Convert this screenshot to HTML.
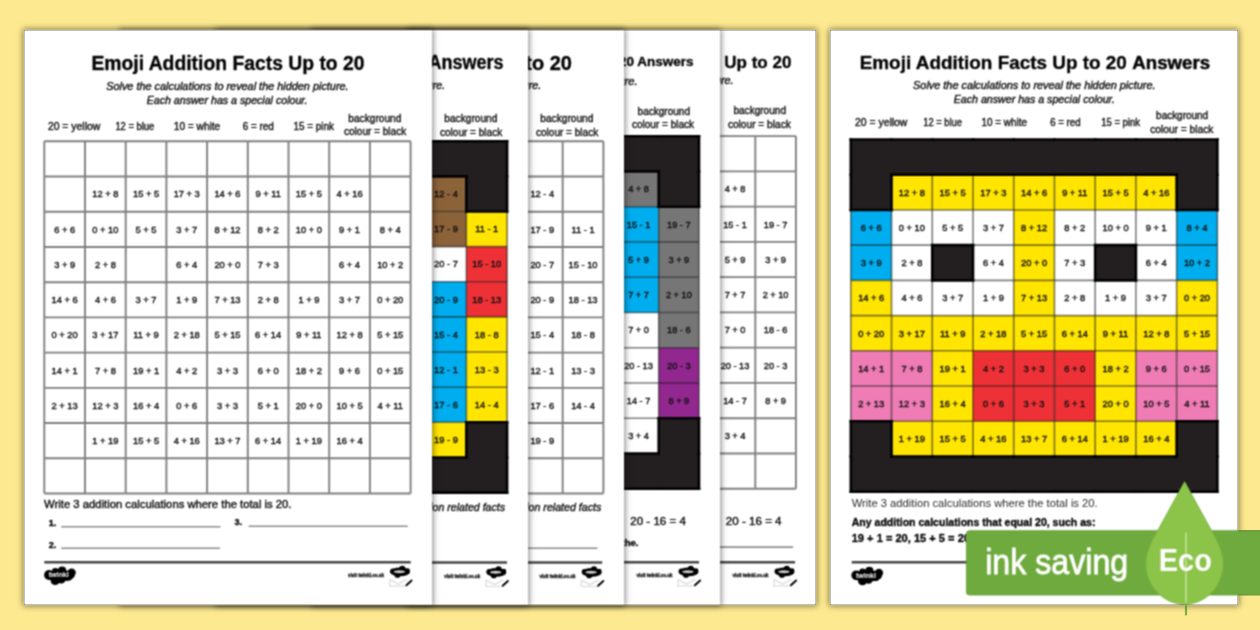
<!DOCTYPE html><html><head><meta charset="utf-8"><title>Emoji Addition Facts Up to 20</title><style>
html,body{margin:0;padding:0;}
body{width:1260px;height:630px;background:#FDE98F;position:relative;overflow:hidden;font-family:"Liberation Sans",sans-serif;}
.pg{position:absolute;background:#fff;box-shadow:0 0 6px 1px rgba(0,0,0,0.5);overflow:hidden;}
.pg svg{display:block;font-family:"Liberation Sans",sans-serif;}
.eco{position:absolute;left:0;top:0;z-index:20;}
#wrap{position:absolute;left:0;top:0;width:1260px;height:630px;filter:url(#soft);}
</style></head><body><svg width="0" height="0" style="position:absolute"><filter id="soft" x="0" y="0" width="100%" height="100%" color-interpolation-filters="sRGB"><feConvolveMatrix order="3" kernelMatrix="1 2 1 2 4 2 1 2 1" divisor="16" edgeMode="duplicate" preserveAlpha="true"/></filter></svg><div id="wrap">
<div class="pg" style="left:407.6px;top:30px;width:408px;height:575px;z-index:1;"><svg width="408" height="575" viewBox="407.6 30 408 575"><text x="791.00" y="67.80" font-size="17" text-anchor="end" font-weight="bold" stroke="#231F20" stroke-width="0.4">Emoji Addition and Subtraction Facts Up to 20</text>
<text x="720.60" y="84.30" font-size="10.0" text-anchor="end" font-style="italic" stroke="#231F20" stroke-width="0.4">Solve the calculations to reveal the hidden pictu</text>
<text x="720.60" y="84.30" font-size="10.0" font-style="italic" textLength="12.60" lengthAdjust="spacingAndGlyphs" stroke="#231F20" stroke-width="0.4">re.</text>
<text x="733.00" y="113.60" font-size="10.0" textLength="52.60" lengthAdjust="spacingAndGlyphs" stroke="#231F20" stroke-width="0.4">background</text>
<text x="727.50" y="127.70" font-size="10.0" textLength="62.90" lengthAdjust="spacingAndGlyphs" stroke="#231F20" stroke-width="0.4">colour = black</text>
<line x1="714.30" y1="136.10" x2="714.30" y2="171.36" stroke="#7E7E7E" stroke-width="1.9"/>
<line x1="754.90" y1="136.10" x2="754.90" y2="171.36" stroke="#7E7E7E" stroke-width="1.9"/>
<line x1="795.50" y1="136.10" x2="795.50" y2="171.36" stroke="#7E7E7E" stroke-width="1.9"/>
<line x1="714.30" y1="171.36" x2="714.30" y2="206.62" stroke="#7E7E7E" stroke-width="1.9"/>
<line x1="754.90" y1="171.36" x2="754.90" y2="206.62" stroke="#7E7E7E" stroke-width="1.9"/>
<line x1="795.50" y1="171.36" x2="795.50" y2="206.62" stroke="#7E7E7E" stroke-width="1.9"/>
<line x1="714.30" y1="206.62" x2="714.30" y2="241.88" stroke="#7E7E7E" stroke-width="1.9"/>
<line x1="754.90" y1="206.62" x2="754.90" y2="241.88" stroke="#7E7E7E" stroke-width="1.9"/>
<line x1="795.50" y1="206.62" x2="795.50" y2="241.88" stroke="#7E7E7E" stroke-width="1.9"/>
<line x1="714.30" y1="241.88" x2="714.30" y2="277.14" stroke="#7E7E7E" stroke-width="1.9"/>
<line x1="754.90" y1="241.88" x2="754.90" y2="277.14" stroke="#7E7E7E" stroke-width="1.9"/>
<line x1="795.50" y1="241.88" x2="795.50" y2="277.14" stroke="#7E7E7E" stroke-width="1.9"/>
<line x1="714.30" y1="277.14" x2="714.30" y2="312.40" stroke="#7E7E7E" stroke-width="1.9"/>
<line x1="754.90" y1="277.14" x2="754.90" y2="312.40" stroke="#7E7E7E" stroke-width="1.9"/>
<line x1="795.50" y1="277.14" x2="795.50" y2="312.40" stroke="#7E7E7E" stroke-width="1.9"/>
<line x1="714.30" y1="312.40" x2="714.30" y2="347.66" stroke="#7E7E7E" stroke-width="1.9"/>
<line x1="754.90" y1="312.40" x2="754.90" y2="347.66" stroke="#7E7E7E" stroke-width="1.9"/>
<line x1="795.50" y1="312.40" x2="795.50" y2="347.66" stroke="#7E7E7E" stroke-width="1.9"/>
<line x1="714.30" y1="347.66" x2="714.30" y2="382.92" stroke="#7E7E7E" stroke-width="1.9"/>
<line x1="754.90" y1="347.66" x2="754.90" y2="382.92" stroke="#7E7E7E" stroke-width="1.9"/>
<line x1="795.50" y1="347.66" x2="795.50" y2="382.92" stroke="#7E7E7E" stroke-width="1.9"/>
<line x1="714.30" y1="382.92" x2="714.30" y2="418.18" stroke="#7E7E7E" stroke-width="1.9"/>
<line x1="754.90" y1="382.92" x2="754.90" y2="418.18" stroke="#7E7E7E" stroke-width="1.9"/>
<line x1="795.50" y1="382.92" x2="795.50" y2="418.18" stroke="#7E7E7E" stroke-width="1.9"/>
<line x1="714.30" y1="418.18" x2="714.30" y2="453.44" stroke="#7E7E7E" stroke-width="1.9"/>
<line x1="754.90" y1="418.18" x2="754.90" y2="453.44" stroke="#7E7E7E" stroke-width="1.9"/>
<line x1="795.50" y1="418.18" x2="795.50" y2="453.44" stroke="#7E7E7E" stroke-width="1.9"/>
<line x1="714.30" y1="453.44" x2="714.30" y2="488.70" stroke="#7E7E7E" stroke-width="1.9"/>
<line x1="754.90" y1="453.44" x2="754.90" y2="488.70" stroke="#7E7E7E" stroke-width="1.9"/>
<line x1="795.50" y1="453.44" x2="795.50" y2="488.70" stroke="#7E7E7E" stroke-width="1.9"/>
<line x1="714.30" y1="136.10" x2="754.90" y2="136.10" stroke="#7E7E7E" stroke-width="1.9"/>
<line x1="754.90" y1="136.10" x2="795.50" y2="136.10" stroke="#7E7E7E" stroke-width="1.9"/>
<line x1="714.30" y1="171.36" x2="754.90" y2="171.36" stroke="#7E7E7E" stroke-width="1.9"/>
<line x1="754.90" y1="171.36" x2="795.50" y2="171.36" stroke="#7E7E7E" stroke-width="1.9"/>
<line x1="714.30" y1="206.62" x2="754.90" y2="206.62" stroke="#7E7E7E" stroke-width="1.9"/>
<line x1="754.90" y1="206.62" x2="795.50" y2="206.62" stroke="#7E7E7E" stroke-width="1.9"/>
<line x1="714.30" y1="241.88" x2="754.90" y2="241.88" stroke="#7E7E7E" stroke-width="1.9"/>
<line x1="754.90" y1="241.88" x2="795.50" y2="241.88" stroke="#7E7E7E" stroke-width="1.9"/>
<line x1="714.30" y1="277.14" x2="754.90" y2="277.14" stroke="#7E7E7E" stroke-width="1.9"/>
<line x1="754.90" y1="277.14" x2="795.50" y2="277.14" stroke="#7E7E7E" stroke-width="1.9"/>
<line x1="714.30" y1="312.40" x2="754.90" y2="312.40" stroke="#7E7E7E" stroke-width="1.9"/>
<line x1="754.90" y1="312.40" x2="795.50" y2="312.40" stroke="#7E7E7E" stroke-width="1.9"/>
<line x1="714.30" y1="347.66" x2="754.90" y2="347.66" stroke="#7E7E7E" stroke-width="1.9"/>
<line x1="754.90" y1="347.66" x2="795.50" y2="347.66" stroke="#7E7E7E" stroke-width="1.9"/>
<line x1="714.30" y1="382.92" x2="754.90" y2="382.92" stroke="#7E7E7E" stroke-width="1.9"/>
<line x1="754.90" y1="382.92" x2="795.50" y2="382.92" stroke="#7E7E7E" stroke-width="1.9"/>
<line x1="714.30" y1="418.18" x2="754.90" y2="418.18" stroke="#7E7E7E" stroke-width="1.9"/>
<line x1="754.90" y1="418.18" x2="795.50" y2="418.18" stroke="#7E7E7E" stroke-width="1.9"/>
<line x1="714.30" y1="453.44" x2="754.90" y2="453.44" stroke="#7E7E7E" stroke-width="1.9"/>
<line x1="754.90" y1="453.44" x2="795.50" y2="453.44" stroke="#7E7E7E" stroke-width="1.9"/>
<line x1="714.30" y1="488.70" x2="754.90" y2="488.70" stroke="#7E7E7E" stroke-width="1.9"/>
<line x1="754.90" y1="488.70" x2="795.50" y2="488.70" stroke="#7E7E7E" stroke-width="1.9"/>
<text x="734.60" y="192.29" font-size="9.2" text-anchor="middle" fill="#111" stroke="#111" stroke-width="0.4">4 + 8</text>
<text x="734.60" y="227.55" font-size="9.2" text-anchor="middle" fill="#111" stroke="#111" stroke-width="0.4">15 - 1</text>
<text x="775.20" y="227.55" font-size="9.2" text-anchor="middle" fill="#111" stroke="#111" stroke-width="0.4">19 - 7</text>
<text x="734.60" y="262.81" font-size="9.2" text-anchor="middle" fill="#111" stroke="#111" stroke-width="0.4">5 + 9</text>
<text x="775.20" y="262.81" font-size="9.2" text-anchor="middle" fill="#111" stroke="#111" stroke-width="0.4">3 + 9</text>
<text x="734.60" y="298.07" font-size="9.2" text-anchor="middle" fill="#111" stroke="#111" stroke-width="0.4">7 + 7</text>
<text x="775.20" y="298.07" font-size="9.2" text-anchor="middle" fill="#111" stroke="#111" stroke-width="0.4">2 + 10</text>
<text x="734.60" y="333.33" font-size="9.2" text-anchor="middle" fill="#111" stroke="#111" stroke-width="0.4">7 + 0</text>
<text x="775.20" y="333.33" font-size="9.2" text-anchor="middle" fill="#111" stroke="#111" stroke-width="0.4">18 - 6</text>
<text x="734.60" y="368.59" font-size="9.2" text-anchor="middle" fill="#111" stroke="#111" stroke-width="0.4">20 - 13</text>
<text x="775.20" y="368.59" font-size="9.2" text-anchor="middle" fill="#111" stroke="#111" stroke-width="0.4">20 - 3</text>
<text x="734.60" y="403.85" font-size="9.2" text-anchor="middle" fill="#111" stroke="#111" stroke-width="0.4">14 - 7</text>
<text x="775.20" y="403.85" font-size="9.2" text-anchor="middle" fill="#111" stroke="#111" stroke-width="0.4">8 + 9</text>
<text x="734.60" y="439.11" font-size="9.2" text-anchor="middle" fill="#111" stroke="#111" stroke-width="0.4">3 + 4</text>
<text x="725.40" y="525.00" font-size="10.4" textLength="55.80" lengthAdjust="spacingAndGlyphs" stroke="#231F20" stroke-width="0.4">20 - 16 = 4</text>
<line x1="700.00" y1="547.10" x2="792.70" y2="547.10" stroke="#8C8C8C" stroke-width="1.6"/>
<line x1="700.00" y1="562.20" x2="794.70" y2="562.20" stroke="#454545" stroke-width="2.4"/>
<g transform="translate(794.80,562.00)"><text x="-62.8" y="15.2" font-size="4.6" font-weight="bold" fill="#222" stroke="#222" stroke-width="0.35" textLength="36" lengthAdjust="spacingAndGlyphs">visit twinkl.co.uk</text><ellipse cx="-10.6" cy="9.9" rx="9.9" ry="4.4" fill="#000"/><circle cx="-8.4" cy="6.8" r="3.1" fill="#000"/><circle cx="-13.2" cy="12.7" r="3.1" fill="#000"/><circle cx="-18" cy="9.2" r="2.6" fill="#000"/><circle cx="-3.2" cy="8.6" r="2.4" fill="#000"/><ellipse cx="-11.3" cy="9.8" rx="5.8" ry="1.5" fill="#fff" opacity="0.8"/><path d="M-21 17.5 L-12.5 22 L-4 17.5 M-21 17.5 L-21 24 L-4 24" fill="none" stroke="#e2e2e2" stroke-width="1.6"/><path d="M-4.3 23.2 L0.9 18.5" fill="none" stroke="#000" stroke-width="1.9" stroke-linecap="round"/></g></svg></div>
<div class="pg" style="left:312px;top:30px;width:408px;height:575px;z-index:2;"><svg width="408" height="575" viewBox="312 30 408 575"><text x="693.60" y="65.70" font-size="13.5" text-anchor="end" font-weight="bold" stroke="#231F20" stroke-width="0.4">Emoji Addition and Subtraction Facts Up to 20 Answers</text>
<text x="624.60" y="84.80" font-size="10.0" text-anchor="end" font-style="italic" stroke="#231F20" stroke-width="0.4">Solve the calculations to reveal the hidden pictu</text>
<text x="624.60" y="84.80" font-size="10.0" font-style="italic" textLength="13.00" lengthAdjust="spacingAndGlyphs" stroke="#231F20" stroke-width="0.4">re.</text>
<text x="637.60" y="114.50" font-size="10.0" textLength="52.40" lengthAdjust="spacingAndGlyphs" stroke="#231F20" stroke-width="0.4">background</text>
<text x="632.00" y="127.60" font-size="10.0" textLength="62.00" lengthAdjust="spacingAndGlyphs" stroke="#231F20" stroke-width="0.4">colour = black</text>
<rect x="617.80" y="135.70" width="41.50" height="36.44" fill="#231F20"/>
<rect x="658.10" y="135.70" width="41.50" height="36.44" fill="#231F20"/>
<rect x="618.40" y="171.54" width="40.35" height="35.29" fill="#767676"/>
<rect x="658.10" y="170.94" width="41.50" height="36.44" fill="#231F20"/>
<rect x="618.40" y="206.78" width="40.35" height="35.29" fill="#00AEEF"/>
<rect x="658.70" y="206.78" width="40.35" height="35.29" fill="#767676"/>
<rect x="618.40" y="242.02" width="40.35" height="35.29" fill="#00AEEF"/>
<rect x="658.70" y="242.02" width="40.35" height="35.29" fill="#767676"/>
<rect x="618.40" y="277.26" width="40.35" height="35.29" fill="#00AEEF"/>
<rect x="658.70" y="277.26" width="40.35" height="35.29" fill="#767676"/>
<rect x="658.70" y="312.50" width="40.35" height="35.29" fill="#767676"/>
<rect x="658.70" y="347.74" width="40.35" height="35.29" fill="#92278F"/>
<rect x="658.70" y="382.98" width="40.35" height="35.29" fill="#92278F"/>
<rect x="658.10" y="417.62" width="41.50" height="36.44" fill="#231F20"/>
<rect x="617.80" y="452.86" width="41.50" height="36.44" fill="#231F20"/>
<rect x="658.10" y="452.86" width="41.50" height="36.44" fill="#231F20"/>
<line x1="618.40" y1="171.54" x2="618.40" y2="206.78" stroke="rgba(20,20,20,0.55)" stroke-width="1.6"/>
<line x1="618.40" y1="206.78" x2="618.40" y2="242.02" stroke="rgba(20,20,20,0.55)" stroke-width="1.6"/>
<line x1="658.70" y1="206.78" x2="658.70" y2="242.02" stroke="rgba(20,20,20,0.55)" stroke-width="1.6"/>
<line x1="699.00" y1="206.78" x2="699.00" y2="242.02" stroke="rgba(20,20,20,0.55)" stroke-width="1.6"/>
<line x1="618.40" y1="242.02" x2="618.40" y2="277.26" stroke="rgba(20,20,20,0.55)" stroke-width="1.6"/>
<line x1="658.70" y1="242.02" x2="658.70" y2="277.26" stroke="rgba(20,20,20,0.55)" stroke-width="1.6"/>
<line x1="699.00" y1="242.02" x2="699.00" y2="277.26" stroke="rgba(20,20,20,0.55)" stroke-width="1.6"/>
<line x1="618.40" y1="277.26" x2="618.40" y2="312.50" stroke="rgba(20,20,20,0.55)" stroke-width="1.6"/>
<line x1="658.70" y1="277.26" x2="658.70" y2="312.50" stroke="rgba(20,20,20,0.55)" stroke-width="1.6"/>
<line x1="699.00" y1="277.26" x2="699.00" y2="312.50" stroke="rgba(20,20,20,0.55)" stroke-width="1.6"/>
<line x1="618.40" y1="312.50" x2="618.40" y2="347.74" stroke="rgba(20,20,20,0.55)" stroke-width="1.6"/>
<line x1="658.70" y1="312.50" x2="658.70" y2="347.74" stroke="rgba(20,20,20,0.55)" stroke-width="1.6"/>
<line x1="699.00" y1="312.50" x2="699.00" y2="347.74" stroke="rgba(20,20,20,0.55)" stroke-width="1.6"/>
<line x1="618.40" y1="347.74" x2="618.40" y2="382.98" stroke="rgba(20,20,20,0.55)" stroke-width="1.6"/>
<line x1="658.70" y1="347.74" x2="658.70" y2="382.98" stroke="rgba(20,20,20,0.55)" stroke-width="1.6"/>
<line x1="699.00" y1="347.74" x2="699.00" y2="382.98" stroke="rgba(20,20,20,0.55)" stroke-width="1.6"/>
<line x1="618.40" y1="382.98" x2="618.40" y2="418.22" stroke="rgba(20,20,20,0.55)" stroke-width="1.6"/>
<line x1="658.70" y1="382.98" x2="658.70" y2="418.22" stroke="rgba(20,20,20,0.55)" stroke-width="1.6"/>
<line x1="699.00" y1="382.98" x2="699.00" y2="418.22" stroke="rgba(20,20,20,0.55)" stroke-width="1.6"/>
<line x1="618.40" y1="418.22" x2="618.40" y2="453.46" stroke="rgba(20,20,20,0.55)" stroke-width="1.6"/>
<line x1="618.40" y1="206.78" x2="658.70" y2="206.78" stroke="rgba(20,20,20,0.55)" stroke-width="1.6"/>
<line x1="618.40" y1="242.02" x2="658.70" y2="242.02" stroke="rgba(20,20,20,0.55)" stroke-width="1.6"/>
<line x1="658.70" y1="242.02" x2="699.00" y2="242.02" stroke="rgba(20,20,20,0.55)" stroke-width="1.6"/>
<line x1="618.40" y1="277.26" x2="658.70" y2="277.26" stroke="rgba(20,20,20,0.55)" stroke-width="1.6"/>
<line x1="658.70" y1="277.26" x2="699.00" y2="277.26" stroke="rgba(20,20,20,0.55)" stroke-width="1.6"/>
<line x1="618.40" y1="312.50" x2="658.70" y2="312.50" stroke="rgba(20,20,20,0.55)" stroke-width="1.6"/>
<line x1="658.70" y1="312.50" x2="699.00" y2="312.50" stroke="rgba(20,20,20,0.55)" stroke-width="1.6"/>
<line x1="618.40" y1="347.74" x2="658.70" y2="347.74" stroke="rgba(20,20,20,0.55)" stroke-width="1.6"/>
<line x1="658.70" y1="347.74" x2="699.00" y2="347.74" stroke="rgba(20,20,20,0.55)" stroke-width="1.6"/>
<line x1="618.40" y1="382.98" x2="658.70" y2="382.98" stroke="rgba(20,20,20,0.55)" stroke-width="1.6"/>
<line x1="658.70" y1="382.98" x2="699.00" y2="382.98" stroke="rgba(20,20,20,0.55)" stroke-width="1.6"/>
<line x1="618.40" y1="418.22" x2="658.70" y2="418.22" stroke="rgba(20,20,20,0.55)" stroke-width="1.6"/>
<line x1="618.40" y1="136.30" x2="618.40" y2="171.54" stroke="#000" stroke-width="2.6" stroke-linecap="square"/>
<line x1="699.00" y1="136.30" x2="699.00" y2="171.54" stroke="#000" stroke-width="2.6" stroke-linecap="square"/>
<line x1="658.70" y1="171.54" x2="658.70" y2="206.78" stroke="#000" stroke-width="2.6" stroke-linecap="square"/>
<line x1="699.00" y1="171.54" x2="699.00" y2="206.78" stroke="#000" stroke-width="2.6" stroke-linecap="square"/>
<line x1="658.70" y1="418.22" x2="658.70" y2="453.46" stroke="#000" stroke-width="2.6" stroke-linecap="square"/>
<line x1="699.00" y1="418.22" x2="699.00" y2="453.46" stroke="#000" stroke-width="2.6" stroke-linecap="square"/>
<line x1="618.40" y1="453.46" x2="618.40" y2="488.70" stroke="#000" stroke-width="2.6" stroke-linecap="square"/>
<line x1="699.00" y1="453.46" x2="699.00" y2="488.70" stroke="#000" stroke-width="2.6" stroke-linecap="square"/>
<line x1="618.40" y1="136.30" x2="658.70" y2="136.30" stroke="#000" stroke-width="2.6" stroke-linecap="square"/>
<line x1="658.70" y1="136.30" x2="699.00" y2="136.30" stroke="#000" stroke-width="2.6" stroke-linecap="square"/>
<line x1="618.40" y1="171.54" x2="658.70" y2="171.54" stroke="#000" stroke-width="2.6" stroke-linecap="square"/>
<line x1="658.70" y1="206.78" x2="699.00" y2="206.78" stroke="#000" stroke-width="2.6" stroke-linecap="square"/>
<line x1="658.70" y1="418.22" x2="699.00" y2="418.22" stroke="#000" stroke-width="2.6" stroke-linecap="square"/>
<line x1="618.40" y1="453.46" x2="658.70" y2="453.46" stroke="#000" stroke-width="2.6" stroke-linecap="square"/>
<line x1="618.40" y1="488.70" x2="658.70" y2="488.70" stroke="#000" stroke-width="2.6" stroke-linecap="square"/>
<line x1="658.70" y1="488.70" x2="699.00" y2="488.70" stroke="#000" stroke-width="2.6" stroke-linecap="square"/>
<text x="638.55" y="192.46" font-size="9.2" text-anchor="middle" fill="#111" stroke="#111" stroke-width="0.4">4 + 8</text>
<text x="638.55" y="227.70" font-size="9.2" text-anchor="middle" fill="#111" stroke="#111" stroke-width="0.4">15 - 1</text>
<text x="678.85" y="227.70" font-size="9.2" text-anchor="middle" fill="#111" stroke="#111" stroke-width="0.4">19 - 7</text>
<text x="638.55" y="262.94" font-size="9.2" text-anchor="middle" fill="#111" stroke="#111" stroke-width="0.4">5 + 9</text>
<text x="678.85" y="262.94" font-size="9.2" text-anchor="middle" fill="#111" stroke="#111" stroke-width="0.4">3 + 9</text>
<text x="638.55" y="298.18" font-size="9.2" text-anchor="middle" fill="#111" stroke="#111" stroke-width="0.4">7 + 7</text>
<text x="678.85" y="298.18" font-size="9.2" text-anchor="middle" fill="#111" stroke="#111" stroke-width="0.4">2 + 10</text>
<text x="638.55" y="333.42" font-size="9.2" text-anchor="middle" fill="#111" stroke="#111" stroke-width="0.4">7 + 0</text>
<text x="678.85" y="333.42" font-size="9.2" text-anchor="middle" fill="#111" stroke="#111" stroke-width="0.4">18 - 6</text>
<text x="638.55" y="368.66" font-size="9.2" text-anchor="middle" fill="#111" stroke="#111" stroke-width="0.4">20 - 13</text>
<text x="678.85" y="368.66" font-size="9.2" text-anchor="middle" fill="#111" stroke="#111" stroke-width="0.4">20 - 3</text>
<text x="638.55" y="403.90" font-size="9.2" text-anchor="middle" fill="#111" stroke="#111" stroke-width="0.4">14 - 7</text>
<text x="678.85" y="403.90" font-size="9.2" text-anchor="middle" fill="#111" stroke="#111" stroke-width="0.4">8 + 9</text>
<text x="638.55" y="439.14" font-size="9.2" text-anchor="middle" fill="#111" stroke="#111" stroke-width="0.4">3 + 4</text>
<text x="630.20" y="525.00" font-size="10.4" textLength="55.80" lengthAdjust="spacingAndGlyphs" stroke="#231F20" stroke-width="0.4">20 - 16 = 4</text>
<text x="638.50" y="546.30" font-size="9.6" text-anchor="end" font-weight="bold" stroke="#231F20" stroke-width="0.4">Write the related facts in the same way as the.</text>
<line x1="600.00" y1="562.20" x2="699.00" y2="562.20" stroke="#454545" stroke-width="2.4"/>
<g transform="translate(699.20,562.00)"><text x="-62.8" y="15.2" font-size="4.6" font-weight="bold" fill="#222" stroke="#222" stroke-width="0.35" textLength="36" lengthAdjust="spacingAndGlyphs">visit twinkl.co.uk</text><ellipse cx="-10.6" cy="9.9" rx="9.9" ry="4.4" fill="#000"/><circle cx="-8.4" cy="6.8" r="3.1" fill="#000"/><circle cx="-13.2" cy="12.7" r="3.1" fill="#000"/><circle cx="-18" cy="9.2" r="2.6" fill="#000"/><circle cx="-3.2" cy="8.6" r="2.4" fill="#000"/><ellipse cx="-11.3" cy="9.8" rx="5.8" ry="1.5" fill="#fff" opacity="0.8"/><path d="M-21 17.5 L-12.5 22 L-4 17.5 M-21 17.5 L-21 24 L-4 24" fill="none" stroke="#e2e2e2" stroke-width="1.6"/><path d="M-4.3 23.2 L0.9 18.5" fill="none" stroke="#000" stroke-width="1.9" stroke-linecap="round"/></g></svg></div>
<div class="pg" style="left:216px;top:30px;width:408px;height:575px;z-index:3;"><svg width="408" height="575" viewBox="216 30 408 575"><text x="520.50" y="69.50" font-size="19.5" text-anchor="end" font-weight="bold" stroke="#231F20" stroke-width="0.4">Emoji Subtraction Facts Up</text>
<text x="525.30" y="69.50" font-size="19.5" font-weight="bold" textLength="46.60" lengthAdjust="spacingAndGlyphs" stroke="#231F20" stroke-width="0.4">to 20</text>
<text x="528.80" y="89.00" font-size="10.2" text-anchor="end" font-style="italic" stroke="#231F20" stroke-width="0.4">Solve the calculations to reveal the hidden pictu</text>
<text x="528.80" y="89.00" font-size="10.2" font-style="italic" textLength="12.50" lengthAdjust="spacingAndGlyphs" stroke="#231F20" stroke-width="0.4">re.</text>
<text x="540.30" y="121.90" font-size="10.2" textLength="53.10" lengthAdjust="spacingAndGlyphs" stroke="#231F20" stroke-width="0.4">background</text>
<text x="536.00" y="135.70" font-size="10.2" textLength="62.20" lengthAdjust="spacingAndGlyphs" stroke="#231F20" stroke-width="0.4">colour = black</text>
<line x1="521.94" y1="141.30" x2="521.94" y2="176.52" stroke="#7E7E7E" stroke-width="1.9"/>
<line x1="562.66" y1="141.30" x2="562.66" y2="176.52" stroke="#7E7E7E" stroke-width="1.9"/>
<line x1="603.38" y1="141.30" x2="603.38" y2="176.52" stroke="#7E7E7E" stroke-width="1.9"/>
<line x1="521.94" y1="176.52" x2="521.94" y2="211.74" stroke="#7E7E7E" stroke-width="1.9"/>
<line x1="562.66" y1="176.52" x2="562.66" y2="211.74" stroke="#7E7E7E" stroke-width="1.9"/>
<line x1="603.38" y1="176.52" x2="603.38" y2="211.74" stroke="#7E7E7E" stroke-width="1.9"/>
<line x1="521.94" y1="211.74" x2="521.94" y2="246.96" stroke="#7E7E7E" stroke-width="1.9"/>
<line x1="562.66" y1="211.74" x2="562.66" y2="246.96" stroke="#7E7E7E" stroke-width="1.9"/>
<line x1="603.38" y1="211.74" x2="603.38" y2="246.96" stroke="#7E7E7E" stroke-width="1.9"/>
<line x1="521.94" y1="246.96" x2="521.94" y2="282.18" stroke="#7E7E7E" stroke-width="1.9"/>
<line x1="562.66" y1="246.96" x2="562.66" y2="282.18" stroke="#7E7E7E" stroke-width="1.9"/>
<line x1="603.38" y1="246.96" x2="603.38" y2="282.18" stroke="#7E7E7E" stroke-width="1.9"/>
<line x1="521.94" y1="282.18" x2="521.94" y2="317.40" stroke="#7E7E7E" stroke-width="1.9"/>
<line x1="562.66" y1="282.18" x2="562.66" y2="317.40" stroke="#7E7E7E" stroke-width="1.9"/>
<line x1="603.38" y1="282.18" x2="603.38" y2="317.40" stroke="#7E7E7E" stroke-width="1.9"/>
<line x1="521.94" y1="317.40" x2="521.94" y2="352.62" stroke="#7E7E7E" stroke-width="1.9"/>
<line x1="562.66" y1="317.40" x2="562.66" y2="352.62" stroke="#7E7E7E" stroke-width="1.9"/>
<line x1="603.38" y1="317.40" x2="603.38" y2="352.62" stroke="#7E7E7E" stroke-width="1.9"/>
<line x1="521.94" y1="352.62" x2="521.94" y2="387.84" stroke="#7E7E7E" stroke-width="1.9"/>
<line x1="562.66" y1="352.62" x2="562.66" y2="387.84" stroke="#7E7E7E" stroke-width="1.9"/>
<line x1="603.38" y1="352.62" x2="603.38" y2="387.84" stroke="#7E7E7E" stroke-width="1.9"/>
<line x1="521.94" y1="387.84" x2="521.94" y2="423.06" stroke="#7E7E7E" stroke-width="1.9"/>
<line x1="562.66" y1="387.84" x2="562.66" y2="423.06" stroke="#7E7E7E" stroke-width="1.9"/>
<line x1="603.38" y1="387.84" x2="603.38" y2="423.06" stroke="#7E7E7E" stroke-width="1.9"/>
<line x1="521.94" y1="423.06" x2="521.94" y2="458.28" stroke="#7E7E7E" stroke-width="1.9"/>
<line x1="562.66" y1="423.06" x2="562.66" y2="458.28" stroke="#7E7E7E" stroke-width="1.9"/>
<line x1="603.38" y1="423.06" x2="603.38" y2="458.28" stroke="#7E7E7E" stroke-width="1.9"/>
<line x1="521.94" y1="458.28" x2="521.94" y2="493.50" stroke="#7E7E7E" stroke-width="1.9"/>
<line x1="562.66" y1="458.28" x2="562.66" y2="493.50" stroke="#7E7E7E" stroke-width="1.9"/>
<line x1="603.38" y1="458.28" x2="603.38" y2="493.50" stroke="#7E7E7E" stroke-width="1.9"/>
<line x1="521.94" y1="141.30" x2="562.66" y2="141.30" stroke="#7E7E7E" stroke-width="1.9"/>
<line x1="562.66" y1="141.30" x2="603.38" y2="141.30" stroke="#7E7E7E" stroke-width="1.9"/>
<line x1="521.94" y1="176.52" x2="562.66" y2="176.52" stroke="#7E7E7E" stroke-width="1.9"/>
<line x1="562.66" y1="176.52" x2="603.38" y2="176.52" stroke="#7E7E7E" stroke-width="1.9"/>
<line x1="521.94" y1="211.74" x2="562.66" y2="211.74" stroke="#7E7E7E" stroke-width="1.9"/>
<line x1="562.66" y1="211.74" x2="603.38" y2="211.74" stroke="#7E7E7E" stroke-width="1.9"/>
<line x1="521.94" y1="246.96" x2="562.66" y2="246.96" stroke="#7E7E7E" stroke-width="1.9"/>
<line x1="562.66" y1="246.96" x2="603.38" y2="246.96" stroke="#7E7E7E" stroke-width="1.9"/>
<line x1="521.94" y1="282.18" x2="562.66" y2="282.18" stroke="#7E7E7E" stroke-width="1.9"/>
<line x1="562.66" y1="282.18" x2="603.38" y2="282.18" stroke="#7E7E7E" stroke-width="1.9"/>
<line x1="521.94" y1="317.40" x2="562.66" y2="317.40" stroke="#7E7E7E" stroke-width="1.9"/>
<line x1="562.66" y1="317.40" x2="603.38" y2="317.40" stroke="#7E7E7E" stroke-width="1.9"/>
<line x1="521.94" y1="352.62" x2="562.66" y2="352.62" stroke="#7E7E7E" stroke-width="1.9"/>
<line x1="562.66" y1="352.62" x2="603.38" y2="352.62" stroke="#7E7E7E" stroke-width="1.9"/>
<line x1="521.94" y1="387.84" x2="562.66" y2="387.84" stroke="#7E7E7E" stroke-width="1.9"/>
<line x1="562.66" y1="387.84" x2="603.38" y2="387.84" stroke="#7E7E7E" stroke-width="1.9"/>
<line x1="521.94" y1="423.06" x2="562.66" y2="423.06" stroke="#7E7E7E" stroke-width="1.9"/>
<line x1="562.66" y1="423.06" x2="603.38" y2="423.06" stroke="#7E7E7E" stroke-width="1.9"/>
<line x1="521.94" y1="458.28" x2="562.66" y2="458.28" stroke="#7E7E7E" stroke-width="1.9"/>
<line x1="562.66" y1="458.28" x2="603.38" y2="458.28" stroke="#7E7E7E" stroke-width="1.9"/>
<line x1="521.94" y1="493.50" x2="562.66" y2="493.50" stroke="#7E7E7E" stroke-width="1.9"/>
<line x1="562.66" y1="493.50" x2="603.38" y2="493.50" stroke="#7E7E7E" stroke-width="1.9"/>
<text x="542.30" y="197.43" font-size="9.3" text-anchor="middle" fill="#111" stroke="#111" stroke-width="0.4">12 - 4</text>
<text x="542.30" y="232.65" font-size="9.3" text-anchor="middle" fill="#111" stroke="#111" stroke-width="0.4">17 - 9</text>
<text x="583.02" y="232.65" font-size="9.3" text-anchor="middle" fill="#111" stroke="#111" stroke-width="0.4">11 - 1</text>
<text x="542.30" y="267.87" font-size="9.3" text-anchor="middle" fill="#111" stroke="#111" stroke-width="0.4">20 - 7</text>
<text x="583.02" y="267.87" font-size="9.3" text-anchor="middle" fill="#111" stroke="#111" stroke-width="0.4">15 - 10</text>
<text x="542.30" y="303.09" font-size="9.3" text-anchor="middle" fill="#111" stroke="#111" stroke-width="0.4">20 - 9</text>
<text x="583.02" y="303.09" font-size="9.3" text-anchor="middle" fill="#111" stroke="#111" stroke-width="0.4">18 - 13</text>
<text x="542.30" y="338.31" font-size="9.3" text-anchor="middle" fill="#111" stroke="#111" stroke-width="0.4">15 - 4</text>
<text x="583.02" y="338.31" font-size="9.3" text-anchor="middle" fill="#111" stroke="#111" stroke-width="0.4">18 - 8</text>
<text x="542.30" y="373.53" font-size="9.3" text-anchor="middle" fill="#111" stroke="#111" stroke-width="0.4">12 - 1</text>
<text x="583.02" y="373.53" font-size="9.3" text-anchor="middle" fill="#111" stroke="#111" stroke-width="0.4">13 - 3</text>
<text x="542.30" y="408.75" font-size="9.3" text-anchor="middle" fill="#111" stroke="#111" stroke-width="0.4">17 - 6</text>
<text x="583.02" y="408.75" font-size="9.3" text-anchor="middle" fill="#111" stroke="#111" stroke-width="0.4">14 - 4</text>
<text x="542.30" y="443.97" font-size="9.3" text-anchor="middle" fill="#111" stroke="#111" stroke-width="0.4">19 - 9</text>
<text x="528.60" y="510.50" font-size="10.5" text-anchor="end" font-style="italic" stroke="#231F20" stroke-width="0.4">Write the addition and subtracti</text>
<text x="528.60" y="510.50" font-size="10.5" font-style="italic" textLength="72.70" lengthAdjust="spacingAndGlyphs" stroke="#231F20" stroke-width="0.4">on related facts</text>
<line x1="480.00" y1="548.20" x2="597.50" y2="548.20" stroke="#8C8C8C" stroke-width="1.6"/>
<line x1="480.00" y1="562.50" x2="602.20" y2="562.50" stroke="#454545" stroke-width="2.4"/>
<g transform="translate(602.40,562.50)"><text x="-62.8" y="15.2" font-size="4.6" font-weight="bold" fill="#222" stroke="#222" stroke-width="0.35" textLength="36" lengthAdjust="spacingAndGlyphs">visit twinkl.co.uk</text><ellipse cx="-10.6" cy="9.9" rx="9.9" ry="4.4" fill="#000"/><circle cx="-8.4" cy="6.8" r="3.1" fill="#000"/><circle cx="-13.2" cy="12.7" r="3.1" fill="#000"/><circle cx="-18" cy="9.2" r="2.6" fill="#000"/><circle cx="-3.2" cy="8.6" r="2.4" fill="#000"/><ellipse cx="-11.3" cy="9.8" rx="5.8" ry="1.5" fill="#fff" opacity="0.8"/><path d="M-21 17.5 L-12.5 22 L-4 17.5 M-21 17.5 L-21 24 L-4 24" fill="none" stroke="#e2e2e2" stroke-width="1.6"/><path d="M-4.3 23.2 L0.9 18.5" fill="none" stroke="#000" stroke-width="1.9" stroke-linecap="round"/></g></svg></div>
<div class="pg" style="left:120px;top:30px;width:408px;height:575px;z-index:4;"><svg width="408" height="575" viewBox="120 30 408 575"><text x="423.50" y="69.30" font-size="19.5" text-anchor="end" font-weight="bold" stroke="#231F20" stroke-width="0.4">Emoji Subtraction Facts Up to 20</text>
<text x="428.40" y="69.30" font-size="19.5" font-weight="bold" textLength="75.20" lengthAdjust="spacingAndGlyphs" stroke="#231F20" stroke-width="0.4">Answers</text>
<text x="432.80" y="89.00" font-size="10.2" text-anchor="end" font-style="italic" stroke="#231F20" stroke-width="0.4">Solve the calculations to reveal the hidden pictu</text>
<text x="432.80" y="89.00" font-size="10.2" font-style="italic" textLength="12.20" lengthAdjust="spacingAndGlyphs" stroke="#231F20" stroke-width="0.4">re.</text>
<text x="444.30" y="121.90" font-size="10.2" textLength="53.10" lengthAdjust="spacingAndGlyphs" stroke="#231F20" stroke-width="0.4">background</text>
<text x="440.00" y="135.70" font-size="10.2" textLength="62.20" lengthAdjust="spacingAndGlyphs" stroke="#231F20" stroke-width="0.4">colour = black</text>
<rect x="425.04" y="140.60" width="41.92" height="36.34" fill="#231F20"/>
<rect x="465.76" y="140.60" width="41.92" height="36.34" fill="#231F20"/>
<rect x="425.64" y="176.34" width="40.77" height="35.19" fill="#8C6239"/>
<rect x="465.76" y="175.74" width="41.92" height="36.34" fill="#231F20"/>
<rect x="425.64" y="211.48" width="40.77" height="35.19" fill="#8C6239"/>
<rect x="466.36" y="211.48" width="40.77" height="35.19" fill="#FFE500"/>
<rect x="466.36" y="246.62" width="40.77" height="35.19" fill="#EE3136"/>
<rect x="425.64" y="281.76" width="40.77" height="35.19" fill="#00AEEF"/>
<rect x="466.36" y="281.76" width="40.77" height="35.19" fill="#EE3136"/>
<rect x="425.64" y="316.90" width="40.77" height="35.19" fill="#00AEEF"/>
<rect x="466.36" y="316.90" width="40.77" height="35.19" fill="#FFE500"/>
<rect x="425.64" y="352.04" width="40.77" height="35.19" fill="#00AEEF"/>
<rect x="466.36" y="352.04" width="40.77" height="35.19" fill="#FFE500"/>
<rect x="425.64" y="387.18" width="40.77" height="35.19" fill="#00AEEF"/>
<rect x="466.36" y="387.18" width="40.77" height="35.19" fill="#FFE500"/>
<rect x="425.64" y="422.32" width="40.77" height="35.19" fill="#FFE500"/>
<rect x="465.76" y="421.72" width="41.92" height="36.34" fill="#231F20"/>
<rect x="425.04" y="456.86" width="41.92" height="36.34" fill="#231F20"/>
<rect x="465.76" y="456.86" width="41.92" height="36.34" fill="#231F20"/>
<line x1="425.64" y1="176.34" x2="425.64" y2="211.48" stroke="rgba(20,20,20,0.55)" stroke-width="1.6"/>
<line x1="425.64" y1="211.48" x2="425.64" y2="246.62" stroke="rgba(20,20,20,0.55)" stroke-width="1.6"/>
<line x1="466.36" y1="211.48" x2="466.36" y2="246.62" stroke="rgba(20,20,20,0.55)" stroke-width="1.6"/>
<line x1="507.08" y1="211.48" x2="507.08" y2="246.62" stroke="rgba(20,20,20,0.55)" stroke-width="1.6"/>
<line x1="425.64" y1="246.62" x2="425.64" y2="281.76" stroke="rgba(20,20,20,0.55)" stroke-width="1.6"/>
<line x1="466.36" y1="246.62" x2="466.36" y2="281.76" stroke="rgba(20,20,20,0.55)" stroke-width="1.6"/>
<line x1="507.08" y1="246.62" x2="507.08" y2="281.76" stroke="rgba(20,20,20,0.55)" stroke-width="1.6"/>
<line x1="425.64" y1="281.76" x2="425.64" y2="316.90" stroke="rgba(20,20,20,0.55)" stroke-width="1.6"/>
<line x1="466.36" y1="281.76" x2="466.36" y2="316.90" stroke="rgba(20,20,20,0.55)" stroke-width="1.6"/>
<line x1="507.08" y1="281.76" x2="507.08" y2="316.90" stroke="rgba(20,20,20,0.55)" stroke-width="1.6"/>
<line x1="425.64" y1="316.90" x2="425.64" y2="352.04" stroke="rgba(20,20,20,0.55)" stroke-width="1.6"/>
<line x1="466.36" y1="316.90" x2="466.36" y2="352.04" stroke="rgba(20,20,20,0.55)" stroke-width="1.6"/>
<line x1="507.08" y1="316.90" x2="507.08" y2="352.04" stroke="rgba(20,20,20,0.55)" stroke-width="1.6"/>
<line x1="425.64" y1="352.04" x2="425.64" y2="387.18" stroke="rgba(20,20,20,0.55)" stroke-width="1.6"/>
<line x1="466.36" y1="352.04" x2="466.36" y2="387.18" stroke="rgba(20,20,20,0.55)" stroke-width="1.6"/>
<line x1="507.08" y1="352.04" x2="507.08" y2="387.18" stroke="rgba(20,20,20,0.55)" stroke-width="1.6"/>
<line x1="425.64" y1="387.18" x2="425.64" y2="422.32" stroke="rgba(20,20,20,0.55)" stroke-width="1.6"/>
<line x1="466.36" y1="387.18" x2="466.36" y2="422.32" stroke="rgba(20,20,20,0.55)" stroke-width="1.6"/>
<line x1="507.08" y1="387.18" x2="507.08" y2="422.32" stroke="rgba(20,20,20,0.55)" stroke-width="1.6"/>
<line x1="425.64" y1="422.32" x2="425.64" y2="457.46" stroke="rgba(20,20,20,0.55)" stroke-width="1.6"/>
<line x1="425.64" y1="211.48" x2="466.36" y2="211.48" stroke="rgba(20,20,20,0.55)" stroke-width="1.6"/>
<line x1="425.64" y1="246.62" x2="466.36" y2="246.62" stroke="rgba(20,20,20,0.55)" stroke-width="1.6"/>
<line x1="466.36" y1="246.62" x2="507.08" y2="246.62" stroke="rgba(20,20,20,0.55)" stroke-width="1.6"/>
<line x1="425.64" y1="281.76" x2="466.36" y2="281.76" stroke="rgba(20,20,20,0.55)" stroke-width="1.6"/>
<line x1="466.36" y1="281.76" x2="507.08" y2="281.76" stroke="rgba(20,20,20,0.55)" stroke-width="1.6"/>
<line x1="425.64" y1="316.90" x2="466.36" y2="316.90" stroke="rgba(20,20,20,0.55)" stroke-width="1.6"/>
<line x1="466.36" y1="316.90" x2="507.08" y2="316.90" stroke="rgba(20,20,20,0.55)" stroke-width="1.6"/>
<line x1="425.64" y1="352.04" x2="466.36" y2="352.04" stroke="rgba(20,20,20,0.55)" stroke-width="1.6"/>
<line x1="466.36" y1="352.04" x2="507.08" y2="352.04" stroke="rgba(20,20,20,0.55)" stroke-width="1.6"/>
<line x1="425.64" y1="387.18" x2="466.36" y2="387.18" stroke="rgba(20,20,20,0.55)" stroke-width="1.6"/>
<line x1="466.36" y1="387.18" x2="507.08" y2="387.18" stroke="rgba(20,20,20,0.55)" stroke-width="1.6"/>
<line x1="425.64" y1="422.32" x2="466.36" y2="422.32" stroke="rgba(20,20,20,0.55)" stroke-width="1.6"/>
<line x1="425.64" y1="141.20" x2="425.64" y2="176.34" stroke="#000" stroke-width="2.6" stroke-linecap="square"/>
<line x1="507.08" y1="141.20" x2="507.08" y2="176.34" stroke="#000" stroke-width="2.6" stroke-linecap="square"/>
<line x1="466.36" y1="176.34" x2="466.36" y2="211.48" stroke="#000" stroke-width="2.6" stroke-linecap="square"/>
<line x1="507.08" y1="176.34" x2="507.08" y2="211.48" stroke="#000" stroke-width="2.6" stroke-linecap="square"/>
<line x1="466.36" y1="422.32" x2="466.36" y2="457.46" stroke="#000" stroke-width="2.6" stroke-linecap="square"/>
<line x1="507.08" y1="422.32" x2="507.08" y2="457.46" stroke="#000" stroke-width="2.6" stroke-linecap="square"/>
<line x1="425.64" y1="457.46" x2="425.64" y2="492.60" stroke="#000" stroke-width="2.6" stroke-linecap="square"/>
<line x1="507.08" y1="457.46" x2="507.08" y2="492.60" stroke="#000" stroke-width="2.6" stroke-linecap="square"/>
<line x1="425.64" y1="141.20" x2="466.36" y2="141.20" stroke="#000" stroke-width="2.6" stroke-linecap="square"/>
<line x1="466.36" y1="141.20" x2="507.08" y2="141.20" stroke="#000" stroke-width="2.6" stroke-linecap="square"/>
<line x1="425.64" y1="176.34" x2="466.36" y2="176.34" stroke="#000" stroke-width="2.6" stroke-linecap="square"/>
<line x1="466.36" y1="211.48" x2="507.08" y2="211.48" stroke="#000" stroke-width="2.6" stroke-linecap="square"/>
<line x1="466.36" y1="422.32" x2="507.08" y2="422.32" stroke="#000" stroke-width="2.6" stroke-linecap="square"/>
<line x1="425.64" y1="457.46" x2="466.36" y2="457.46" stroke="#000" stroke-width="2.6" stroke-linecap="square"/>
<line x1="425.64" y1="492.60" x2="466.36" y2="492.60" stroke="#000" stroke-width="2.6" stroke-linecap="square"/>
<line x1="466.36" y1="492.60" x2="507.08" y2="492.60" stroke="#000" stroke-width="2.6" stroke-linecap="square"/>
<text x="446.00" y="197.21" font-size="9.3" text-anchor="middle" fill="#111" stroke="#111" stroke-width="0.4">12 - 4</text>
<text x="446.00" y="232.35" font-size="9.3" text-anchor="middle" fill="#111" stroke="#111" stroke-width="0.4">17 - 9</text>
<text x="486.72" y="232.35" font-size="9.3" text-anchor="middle" fill="#111" stroke="#111" stroke-width="0.4">11 - 1</text>
<text x="446.00" y="267.49" font-size="9.3" text-anchor="middle" fill="#111" stroke="#111" stroke-width="0.4">20 - 7</text>
<text x="486.72" y="267.49" font-size="9.3" text-anchor="middle" fill="#111" stroke="#111" stroke-width="0.4">15 - 10</text>
<text x="446.00" y="302.63" font-size="9.3" text-anchor="middle" fill="#111" stroke="#111" stroke-width="0.4">20 - 9</text>
<text x="486.72" y="302.63" font-size="9.3" text-anchor="middle" fill="#111" stroke="#111" stroke-width="0.4">18 - 13</text>
<text x="446.00" y="337.77" font-size="9.3" text-anchor="middle" fill="#111" stroke="#111" stroke-width="0.4">15 - 4</text>
<text x="486.72" y="337.77" font-size="9.3" text-anchor="middle" fill="#111" stroke="#111" stroke-width="0.4">18 - 8</text>
<text x="446.00" y="372.91" font-size="9.3" text-anchor="middle" fill="#111" stroke="#111" stroke-width="0.4">12 - 1</text>
<text x="486.72" y="372.91" font-size="9.3" text-anchor="middle" fill="#111" stroke="#111" stroke-width="0.4">13 - 3</text>
<text x="446.00" y="408.05" font-size="9.3" text-anchor="middle" fill="#111" stroke="#111" stroke-width="0.4">17 - 6</text>
<text x="486.72" y="408.05" font-size="9.3" text-anchor="middle" fill="#111" stroke="#111" stroke-width="0.4">14 - 4</text>
<text x="446.00" y="443.19" font-size="9.3" text-anchor="middle" fill="#111" stroke="#111" stroke-width="0.4">19 - 9</text>
<text x="432.60" y="510.50" font-size="10.5" text-anchor="end" font-style="italic" stroke="#231F20" stroke-width="0.4">Write the addition and subtracti</text>
<text x="432.60" y="510.50" font-size="10.5" font-style="italic" textLength="72.40" lengthAdjust="spacingAndGlyphs" stroke="#231F20" stroke-width="0.4">on related facts</text>
<line x1="400.00" y1="562.50" x2="507.00" y2="562.50" stroke="#454545" stroke-width="2.4"/>
<g transform="translate(507.00,562.50)"><text x="-62.8" y="15.2" font-size="4.6" font-weight="bold" fill="#222" stroke="#222" stroke-width="0.35" textLength="36" lengthAdjust="spacingAndGlyphs">visit twinkl.co.uk</text><ellipse cx="-10.6" cy="9.9" rx="9.9" ry="4.4" fill="#000"/><circle cx="-8.4" cy="6.8" r="3.1" fill="#000"/><circle cx="-13.2" cy="12.7" r="3.1" fill="#000"/><circle cx="-18" cy="9.2" r="2.6" fill="#000"/><circle cx="-3.2" cy="8.6" r="2.4" fill="#000"/><ellipse cx="-11.3" cy="9.8" rx="5.8" ry="1.5" fill="#fff" opacity="0.8"/><path d="M-21 17.5 L-12.5 22 L-4 17.5 M-21 17.5 L-21 24 L-4 24" fill="none" stroke="#e2e2e2" stroke-width="1.6"/><path d="M-4.3 23.2 L0.9 18.5" fill="none" stroke="#000" stroke-width="1.9" stroke-linecap="round"/></g></svg></div>
<div class="pg" style="left:24px;top:30px;width:408px;height:575px;z-index:5;"><svg width="408" height="575" viewBox="24 30 408 575"><text x="91.40" y="69.80" font-size="19.5" font-weight="bold" textLength="273.10" lengthAdjust="spacingAndGlyphs" stroke="#231F20" stroke-width="0.4">Emoji Addition Facts Up to 20</text>
<text x="106.20" y="89.50" font-size="10.2" font-style="italic" textLength="242.40" lengthAdjust="spacingAndGlyphs" stroke="#231F20" stroke-width="0.4">Solve the calculations to reveal the hidden picture.</text>
<text x="146.70" y="103.80" font-size="10.2" font-style="italic" textLength="160.70" lengthAdjust="spacingAndGlyphs" stroke="#231F20" stroke-width="0.4">Each answer has a special colour.</text>
<text x="47.90" y="129.60" font-size="10.2" textLength="52.40" lengthAdjust="spacingAndGlyphs" stroke="#231F20" stroke-width="0.4">20 = yellow</text>
<text x="115.40" y="129.60" font-size="10.2" textLength="38.90" lengthAdjust="spacingAndGlyphs" stroke="#231F20" stroke-width="0.4">12 = blue</text>
<text x="173.80" y="129.60" font-size="10.2" textLength="46.40" lengthAdjust="spacingAndGlyphs" stroke="#231F20" stroke-width="0.4">10 = white</text>
<text x="242.70" y="129.60" font-size="10.2" textLength="31.00" lengthAdjust="spacingAndGlyphs" stroke="#231F20" stroke-width="0.4">6 = red</text>
<text x="293.50" y="129.60" font-size="10.2" textLength="40.50" lengthAdjust="spacingAndGlyphs" stroke="#231F20" stroke-width="0.4">15 = pink</text>
<text x="348.30" y="121.70" font-size="10.2" textLength="53.10" lengthAdjust="spacingAndGlyphs" stroke="#231F20" stroke-width="0.4">background</text>
<text x="344.00" y="135.20" font-size="10.2" textLength="62.20" lengthAdjust="spacingAndGlyphs" stroke="#231F20" stroke-width="0.4">colour = black</text>
<line x1="44.30" y1="141.30" x2="44.30" y2="176.52" stroke="#7E7E7E" stroke-width="1.9"/>
<line x1="85.00" y1="141.30" x2="85.00" y2="176.52" stroke="#7E7E7E" stroke-width="1.9"/>
<line x1="125.70" y1="141.30" x2="125.70" y2="176.52" stroke="#7E7E7E" stroke-width="1.9"/>
<line x1="166.40" y1="141.30" x2="166.40" y2="176.52" stroke="#7E7E7E" stroke-width="1.9"/>
<line x1="207.10" y1="141.30" x2="207.10" y2="176.52" stroke="#7E7E7E" stroke-width="1.9"/>
<line x1="247.80" y1="141.30" x2="247.80" y2="176.52" stroke="#7E7E7E" stroke-width="1.9"/>
<line x1="288.50" y1="141.30" x2="288.50" y2="176.52" stroke="#7E7E7E" stroke-width="1.9"/>
<line x1="329.20" y1="141.30" x2="329.20" y2="176.52" stroke="#7E7E7E" stroke-width="1.9"/>
<line x1="369.90" y1="141.30" x2="369.90" y2="176.52" stroke="#7E7E7E" stroke-width="1.9"/>
<line x1="410.60" y1="141.30" x2="410.60" y2="176.52" stroke="#7E7E7E" stroke-width="1.9"/>
<line x1="44.30" y1="176.52" x2="44.30" y2="211.74" stroke="#7E7E7E" stroke-width="1.9"/>
<line x1="85.00" y1="176.52" x2="85.00" y2="211.74" stroke="#7E7E7E" stroke-width="1.9"/>
<line x1="125.70" y1="176.52" x2="125.70" y2="211.74" stroke="#7E7E7E" stroke-width="1.9"/>
<line x1="166.40" y1="176.52" x2="166.40" y2="211.74" stroke="#7E7E7E" stroke-width="1.9"/>
<line x1="207.10" y1="176.52" x2="207.10" y2="211.74" stroke="#7E7E7E" stroke-width="1.9"/>
<line x1="247.80" y1="176.52" x2="247.80" y2="211.74" stroke="#7E7E7E" stroke-width="1.9"/>
<line x1="288.50" y1="176.52" x2="288.50" y2="211.74" stroke="#7E7E7E" stroke-width="1.9"/>
<line x1="329.20" y1="176.52" x2="329.20" y2="211.74" stroke="#7E7E7E" stroke-width="1.9"/>
<line x1="369.90" y1="176.52" x2="369.90" y2="211.74" stroke="#7E7E7E" stroke-width="1.9"/>
<line x1="410.60" y1="176.52" x2="410.60" y2="211.74" stroke="#7E7E7E" stroke-width="1.9"/>
<line x1="44.30" y1="211.74" x2="44.30" y2="246.96" stroke="#7E7E7E" stroke-width="1.9"/>
<line x1="85.00" y1="211.74" x2="85.00" y2="246.96" stroke="#7E7E7E" stroke-width="1.9"/>
<line x1="125.70" y1="211.74" x2="125.70" y2="246.96" stroke="#7E7E7E" stroke-width="1.9"/>
<line x1="166.40" y1="211.74" x2="166.40" y2="246.96" stroke="#7E7E7E" stroke-width="1.9"/>
<line x1="207.10" y1="211.74" x2="207.10" y2="246.96" stroke="#7E7E7E" stroke-width="1.9"/>
<line x1="247.80" y1="211.74" x2="247.80" y2="246.96" stroke="#7E7E7E" stroke-width="1.9"/>
<line x1="288.50" y1="211.74" x2="288.50" y2="246.96" stroke="#7E7E7E" stroke-width="1.9"/>
<line x1="329.20" y1="211.74" x2="329.20" y2="246.96" stroke="#7E7E7E" stroke-width="1.9"/>
<line x1="369.90" y1="211.74" x2="369.90" y2="246.96" stroke="#7E7E7E" stroke-width="1.9"/>
<line x1="410.60" y1="211.74" x2="410.60" y2="246.96" stroke="#7E7E7E" stroke-width="1.9"/>
<line x1="44.30" y1="246.96" x2="44.30" y2="282.18" stroke="#7E7E7E" stroke-width="1.9"/>
<line x1="85.00" y1="246.96" x2="85.00" y2="282.18" stroke="#7E7E7E" stroke-width="1.9"/>
<line x1="125.70" y1="246.96" x2="125.70" y2="282.18" stroke="#7E7E7E" stroke-width="1.9"/>
<line x1="166.40" y1="246.96" x2="166.40" y2="282.18" stroke="#7E7E7E" stroke-width="1.9"/>
<line x1="207.10" y1="246.96" x2="207.10" y2="282.18" stroke="#7E7E7E" stroke-width="1.9"/>
<line x1="247.80" y1="246.96" x2="247.80" y2="282.18" stroke="#7E7E7E" stroke-width="1.9"/>
<line x1="288.50" y1="246.96" x2="288.50" y2="282.18" stroke="#7E7E7E" stroke-width="1.9"/>
<line x1="329.20" y1="246.96" x2="329.20" y2="282.18" stroke="#7E7E7E" stroke-width="1.9"/>
<line x1="369.90" y1="246.96" x2="369.90" y2="282.18" stroke="#7E7E7E" stroke-width="1.9"/>
<line x1="410.60" y1="246.96" x2="410.60" y2="282.18" stroke="#7E7E7E" stroke-width="1.9"/>
<line x1="44.30" y1="282.18" x2="44.30" y2="317.40" stroke="#7E7E7E" stroke-width="1.9"/>
<line x1="85.00" y1="282.18" x2="85.00" y2="317.40" stroke="#7E7E7E" stroke-width="1.9"/>
<line x1="125.70" y1="282.18" x2="125.70" y2="317.40" stroke="#7E7E7E" stroke-width="1.9"/>
<line x1="166.40" y1="282.18" x2="166.40" y2="317.40" stroke="#7E7E7E" stroke-width="1.9"/>
<line x1="207.10" y1="282.18" x2="207.10" y2="317.40" stroke="#7E7E7E" stroke-width="1.9"/>
<line x1="247.80" y1="282.18" x2="247.80" y2="317.40" stroke="#7E7E7E" stroke-width="1.9"/>
<line x1="288.50" y1="282.18" x2="288.50" y2="317.40" stroke="#7E7E7E" stroke-width="1.9"/>
<line x1="329.20" y1="282.18" x2="329.20" y2="317.40" stroke="#7E7E7E" stroke-width="1.9"/>
<line x1="369.90" y1="282.18" x2="369.90" y2="317.40" stroke="#7E7E7E" stroke-width="1.9"/>
<line x1="410.60" y1="282.18" x2="410.60" y2="317.40" stroke="#7E7E7E" stroke-width="1.9"/>
<line x1="44.30" y1="317.40" x2="44.30" y2="352.62" stroke="#7E7E7E" stroke-width="1.9"/>
<line x1="85.00" y1="317.40" x2="85.00" y2="352.62" stroke="#7E7E7E" stroke-width="1.9"/>
<line x1="125.70" y1="317.40" x2="125.70" y2="352.62" stroke="#7E7E7E" stroke-width="1.9"/>
<line x1="166.40" y1="317.40" x2="166.40" y2="352.62" stroke="#7E7E7E" stroke-width="1.9"/>
<line x1="207.10" y1="317.40" x2="207.10" y2="352.62" stroke="#7E7E7E" stroke-width="1.9"/>
<line x1="247.80" y1="317.40" x2="247.80" y2="352.62" stroke="#7E7E7E" stroke-width="1.9"/>
<line x1="288.50" y1="317.40" x2="288.50" y2="352.62" stroke="#7E7E7E" stroke-width="1.9"/>
<line x1="329.20" y1="317.40" x2="329.20" y2="352.62" stroke="#7E7E7E" stroke-width="1.9"/>
<line x1="369.90" y1="317.40" x2="369.90" y2="352.62" stroke="#7E7E7E" stroke-width="1.9"/>
<line x1="410.60" y1="317.40" x2="410.60" y2="352.62" stroke="#7E7E7E" stroke-width="1.9"/>
<line x1="44.30" y1="352.62" x2="44.30" y2="387.84" stroke="#7E7E7E" stroke-width="1.9"/>
<line x1="85.00" y1="352.62" x2="85.00" y2="387.84" stroke="#7E7E7E" stroke-width="1.9"/>
<line x1="125.70" y1="352.62" x2="125.70" y2="387.84" stroke="#7E7E7E" stroke-width="1.9"/>
<line x1="166.40" y1="352.62" x2="166.40" y2="387.84" stroke="#7E7E7E" stroke-width="1.9"/>
<line x1="207.10" y1="352.62" x2="207.10" y2="387.84" stroke="#7E7E7E" stroke-width="1.9"/>
<line x1="247.80" y1="352.62" x2="247.80" y2="387.84" stroke="#7E7E7E" stroke-width="1.9"/>
<line x1="288.50" y1="352.62" x2="288.50" y2="387.84" stroke="#7E7E7E" stroke-width="1.9"/>
<line x1="329.20" y1="352.62" x2="329.20" y2="387.84" stroke="#7E7E7E" stroke-width="1.9"/>
<line x1="369.90" y1="352.62" x2="369.90" y2="387.84" stroke="#7E7E7E" stroke-width="1.9"/>
<line x1="410.60" y1="352.62" x2="410.60" y2="387.84" stroke="#7E7E7E" stroke-width="1.9"/>
<line x1="44.30" y1="387.84" x2="44.30" y2="423.06" stroke="#7E7E7E" stroke-width="1.9"/>
<line x1="85.00" y1="387.84" x2="85.00" y2="423.06" stroke="#7E7E7E" stroke-width="1.9"/>
<line x1="125.70" y1="387.84" x2="125.70" y2="423.06" stroke="#7E7E7E" stroke-width="1.9"/>
<line x1="166.40" y1="387.84" x2="166.40" y2="423.06" stroke="#7E7E7E" stroke-width="1.9"/>
<line x1="207.10" y1="387.84" x2="207.10" y2="423.06" stroke="#7E7E7E" stroke-width="1.9"/>
<line x1="247.80" y1="387.84" x2="247.80" y2="423.06" stroke="#7E7E7E" stroke-width="1.9"/>
<line x1="288.50" y1="387.84" x2="288.50" y2="423.06" stroke="#7E7E7E" stroke-width="1.9"/>
<line x1="329.20" y1="387.84" x2="329.20" y2="423.06" stroke="#7E7E7E" stroke-width="1.9"/>
<line x1="369.90" y1="387.84" x2="369.90" y2="423.06" stroke="#7E7E7E" stroke-width="1.9"/>
<line x1="410.60" y1="387.84" x2="410.60" y2="423.06" stroke="#7E7E7E" stroke-width="1.9"/>
<line x1="44.30" y1="423.06" x2="44.30" y2="458.28" stroke="#7E7E7E" stroke-width="1.9"/>
<line x1="85.00" y1="423.06" x2="85.00" y2="458.28" stroke="#7E7E7E" stroke-width="1.9"/>
<line x1="125.70" y1="423.06" x2="125.70" y2="458.28" stroke="#7E7E7E" stroke-width="1.9"/>
<line x1="166.40" y1="423.06" x2="166.40" y2="458.28" stroke="#7E7E7E" stroke-width="1.9"/>
<line x1="207.10" y1="423.06" x2="207.10" y2="458.28" stroke="#7E7E7E" stroke-width="1.9"/>
<line x1="247.80" y1="423.06" x2="247.80" y2="458.28" stroke="#7E7E7E" stroke-width="1.9"/>
<line x1="288.50" y1="423.06" x2="288.50" y2="458.28" stroke="#7E7E7E" stroke-width="1.9"/>
<line x1="329.20" y1="423.06" x2="329.20" y2="458.28" stroke="#7E7E7E" stroke-width="1.9"/>
<line x1="369.90" y1="423.06" x2="369.90" y2="458.28" stroke="#7E7E7E" stroke-width="1.9"/>
<line x1="410.60" y1="423.06" x2="410.60" y2="458.28" stroke="#7E7E7E" stroke-width="1.9"/>
<line x1="44.30" y1="458.28" x2="44.30" y2="493.50" stroke="#7E7E7E" stroke-width="1.9"/>
<line x1="85.00" y1="458.28" x2="85.00" y2="493.50" stroke="#7E7E7E" stroke-width="1.9"/>
<line x1="125.70" y1="458.28" x2="125.70" y2="493.50" stroke="#7E7E7E" stroke-width="1.9"/>
<line x1="166.40" y1="458.28" x2="166.40" y2="493.50" stroke="#7E7E7E" stroke-width="1.9"/>
<line x1="207.10" y1="458.28" x2="207.10" y2="493.50" stroke="#7E7E7E" stroke-width="1.9"/>
<line x1="247.80" y1="458.28" x2="247.80" y2="493.50" stroke="#7E7E7E" stroke-width="1.9"/>
<line x1="288.50" y1="458.28" x2="288.50" y2="493.50" stroke="#7E7E7E" stroke-width="1.9"/>
<line x1="329.20" y1="458.28" x2="329.20" y2="493.50" stroke="#7E7E7E" stroke-width="1.9"/>
<line x1="369.90" y1="458.28" x2="369.90" y2="493.50" stroke="#7E7E7E" stroke-width="1.9"/>
<line x1="410.60" y1="458.28" x2="410.60" y2="493.50" stroke="#7E7E7E" stroke-width="1.9"/>
<line x1="44.30" y1="141.30" x2="85.00" y2="141.30" stroke="#7E7E7E" stroke-width="1.9"/>
<line x1="85.00" y1="141.30" x2="125.70" y2="141.30" stroke="#7E7E7E" stroke-width="1.9"/>
<line x1="125.70" y1="141.30" x2="166.40" y2="141.30" stroke="#7E7E7E" stroke-width="1.9"/>
<line x1="166.40" y1="141.30" x2="207.10" y2="141.30" stroke="#7E7E7E" stroke-width="1.9"/>
<line x1="207.10" y1="141.30" x2="247.80" y2="141.30" stroke="#7E7E7E" stroke-width="1.9"/>
<line x1="247.80" y1="141.30" x2="288.50" y2="141.30" stroke="#7E7E7E" stroke-width="1.9"/>
<line x1="288.50" y1="141.30" x2="329.20" y2="141.30" stroke="#7E7E7E" stroke-width="1.9"/>
<line x1="329.20" y1="141.30" x2="369.90" y2="141.30" stroke="#7E7E7E" stroke-width="1.9"/>
<line x1="369.90" y1="141.30" x2="410.60" y2="141.30" stroke="#7E7E7E" stroke-width="1.9"/>
<line x1="44.30" y1="176.52" x2="85.00" y2="176.52" stroke="#7E7E7E" stroke-width="1.9"/>
<line x1="85.00" y1="176.52" x2="125.70" y2="176.52" stroke="#7E7E7E" stroke-width="1.9"/>
<line x1="125.70" y1="176.52" x2="166.40" y2="176.52" stroke="#7E7E7E" stroke-width="1.9"/>
<line x1="166.40" y1="176.52" x2="207.10" y2="176.52" stroke="#7E7E7E" stroke-width="1.9"/>
<line x1="207.10" y1="176.52" x2="247.80" y2="176.52" stroke="#7E7E7E" stroke-width="1.9"/>
<line x1="247.80" y1="176.52" x2="288.50" y2="176.52" stroke="#7E7E7E" stroke-width="1.9"/>
<line x1="288.50" y1="176.52" x2="329.20" y2="176.52" stroke="#7E7E7E" stroke-width="1.9"/>
<line x1="329.20" y1="176.52" x2="369.90" y2="176.52" stroke="#7E7E7E" stroke-width="1.9"/>
<line x1="369.90" y1="176.52" x2="410.60" y2="176.52" stroke="#7E7E7E" stroke-width="1.9"/>
<line x1="44.30" y1="211.74" x2="85.00" y2="211.74" stroke="#7E7E7E" stroke-width="1.9"/>
<line x1="85.00" y1="211.74" x2="125.70" y2="211.74" stroke="#7E7E7E" stroke-width="1.9"/>
<line x1="125.70" y1="211.74" x2="166.40" y2="211.74" stroke="#7E7E7E" stroke-width="1.9"/>
<line x1="166.40" y1="211.74" x2="207.10" y2="211.74" stroke="#7E7E7E" stroke-width="1.9"/>
<line x1="207.10" y1="211.74" x2="247.80" y2="211.74" stroke="#7E7E7E" stroke-width="1.9"/>
<line x1="247.80" y1="211.74" x2="288.50" y2="211.74" stroke="#7E7E7E" stroke-width="1.9"/>
<line x1="288.50" y1="211.74" x2="329.20" y2="211.74" stroke="#7E7E7E" stroke-width="1.9"/>
<line x1="329.20" y1="211.74" x2="369.90" y2="211.74" stroke="#7E7E7E" stroke-width="1.9"/>
<line x1="369.90" y1="211.74" x2="410.60" y2="211.74" stroke="#7E7E7E" stroke-width="1.9"/>
<line x1="44.30" y1="246.96" x2="85.00" y2="246.96" stroke="#7E7E7E" stroke-width="1.9"/>
<line x1="85.00" y1="246.96" x2="125.70" y2="246.96" stroke="#7E7E7E" stroke-width="1.9"/>
<line x1="125.70" y1="246.96" x2="166.40" y2="246.96" stroke="#7E7E7E" stroke-width="1.9"/>
<line x1="166.40" y1="246.96" x2="207.10" y2="246.96" stroke="#7E7E7E" stroke-width="1.9"/>
<line x1="207.10" y1="246.96" x2="247.80" y2="246.96" stroke="#7E7E7E" stroke-width="1.9"/>
<line x1="247.80" y1="246.96" x2="288.50" y2="246.96" stroke="#7E7E7E" stroke-width="1.9"/>
<line x1="288.50" y1="246.96" x2="329.20" y2="246.96" stroke="#7E7E7E" stroke-width="1.9"/>
<line x1="329.20" y1="246.96" x2="369.90" y2="246.96" stroke="#7E7E7E" stroke-width="1.9"/>
<line x1="369.90" y1="246.96" x2="410.60" y2="246.96" stroke="#7E7E7E" stroke-width="1.9"/>
<line x1="44.30" y1="282.18" x2="85.00" y2="282.18" stroke="#7E7E7E" stroke-width="1.9"/>
<line x1="85.00" y1="282.18" x2="125.70" y2="282.18" stroke="#7E7E7E" stroke-width="1.9"/>
<line x1="125.70" y1="282.18" x2="166.40" y2="282.18" stroke="#7E7E7E" stroke-width="1.9"/>
<line x1="166.40" y1="282.18" x2="207.10" y2="282.18" stroke="#7E7E7E" stroke-width="1.9"/>
<line x1="207.10" y1="282.18" x2="247.80" y2="282.18" stroke="#7E7E7E" stroke-width="1.9"/>
<line x1="247.80" y1="282.18" x2="288.50" y2="282.18" stroke="#7E7E7E" stroke-width="1.9"/>
<line x1="288.50" y1="282.18" x2="329.20" y2="282.18" stroke="#7E7E7E" stroke-width="1.9"/>
<line x1="329.20" y1="282.18" x2="369.90" y2="282.18" stroke="#7E7E7E" stroke-width="1.9"/>
<line x1="369.90" y1="282.18" x2="410.60" y2="282.18" stroke="#7E7E7E" stroke-width="1.9"/>
<line x1="44.30" y1="317.40" x2="85.00" y2="317.40" stroke="#7E7E7E" stroke-width="1.9"/>
<line x1="85.00" y1="317.40" x2="125.70" y2="317.40" stroke="#7E7E7E" stroke-width="1.9"/>
<line x1="125.70" y1="317.40" x2="166.40" y2="317.40" stroke="#7E7E7E" stroke-width="1.9"/>
<line x1="166.40" y1="317.40" x2="207.10" y2="317.40" stroke="#7E7E7E" stroke-width="1.9"/>
<line x1="207.10" y1="317.40" x2="247.80" y2="317.40" stroke="#7E7E7E" stroke-width="1.9"/>
<line x1="247.80" y1="317.40" x2="288.50" y2="317.40" stroke="#7E7E7E" stroke-width="1.9"/>
<line x1="288.50" y1="317.40" x2="329.20" y2="317.40" stroke="#7E7E7E" stroke-width="1.9"/>
<line x1="329.20" y1="317.40" x2="369.90" y2="317.40" stroke="#7E7E7E" stroke-width="1.9"/>
<line x1="369.90" y1="317.40" x2="410.60" y2="317.40" stroke="#7E7E7E" stroke-width="1.9"/>
<line x1="44.30" y1="352.62" x2="85.00" y2="352.62" stroke="#7E7E7E" stroke-width="1.9"/>
<line x1="85.00" y1="352.62" x2="125.70" y2="352.62" stroke="#7E7E7E" stroke-width="1.9"/>
<line x1="125.70" y1="352.62" x2="166.40" y2="352.62" stroke="#7E7E7E" stroke-width="1.9"/>
<line x1="166.40" y1="352.62" x2="207.10" y2="352.62" stroke="#7E7E7E" stroke-width="1.9"/>
<line x1="207.10" y1="352.62" x2="247.80" y2="352.62" stroke="#7E7E7E" stroke-width="1.9"/>
<line x1="247.80" y1="352.62" x2="288.50" y2="352.62" stroke="#7E7E7E" stroke-width="1.9"/>
<line x1="288.50" y1="352.62" x2="329.20" y2="352.62" stroke="#7E7E7E" stroke-width="1.9"/>
<line x1="329.20" y1="352.62" x2="369.90" y2="352.62" stroke="#7E7E7E" stroke-width="1.9"/>
<line x1="369.90" y1="352.62" x2="410.60" y2="352.62" stroke="#7E7E7E" stroke-width="1.9"/>
<line x1="44.30" y1="387.84" x2="85.00" y2="387.84" stroke="#7E7E7E" stroke-width="1.9"/>
<line x1="85.00" y1="387.84" x2="125.70" y2="387.84" stroke="#7E7E7E" stroke-width="1.9"/>
<line x1="125.70" y1="387.84" x2="166.40" y2="387.84" stroke="#7E7E7E" stroke-width="1.9"/>
<line x1="166.40" y1="387.84" x2="207.10" y2="387.84" stroke="#7E7E7E" stroke-width="1.9"/>
<line x1="207.10" y1="387.84" x2="247.80" y2="387.84" stroke="#7E7E7E" stroke-width="1.9"/>
<line x1="247.80" y1="387.84" x2="288.50" y2="387.84" stroke="#7E7E7E" stroke-width="1.9"/>
<line x1="288.50" y1="387.84" x2="329.20" y2="387.84" stroke="#7E7E7E" stroke-width="1.9"/>
<line x1="329.20" y1="387.84" x2="369.90" y2="387.84" stroke="#7E7E7E" stroke-width="1.9"/>
<line x1="369.90" y1="387.84" x2="410.60" y2="387.84" stroke="#7E7E7E" stroke-width="1.9"/>
<line x1="44.30" y1="423.06" x2="85.00" y2="423.06" stroke="#7E7E7E" stroke-width="1.9"/>
<line x1="85.00" y1="423.06" x2="125.70" y2="423.06" stroke="#7E7E7E" stroke-width="1.9"/>
<line x1="125.70" y1="423.06" x2="166.40" y2="423.06" stroke="#7E7E7E" stroke-width="1.9"/>
<line x1="166.40" y1="423.06" x2="207.10" y2="423.06" stroke="#7E7E7E" stroke-width="1.9"/>
<line x1="207.10" y1="423.06" x2="247.80" y2="423.06" stroke="#7E7E7E" stroke-width="1.9"/>
<line x1="247.80" y1="423.06" x2="288.50" y2="423.06" stroke="#7E7E7E" stroke-width="1.9"/>
<line x1="288.50" y1="423.06" x2="329.20" y2="423.06" stroke="#7E7E7E" stroke-width="1.9"/>
<line x1="329.20" y1="423.06" x2="369.90" y2="423.06" stroke="#7E7E7E" stroke-width="1.9"/>
<line x1="369.90" y1="423.06" x2="410.60" y2="423.06" stroke="#7E7E7E" stroke-width="1.9"/>
<line x1="44.30" y1="458.28" x2="85.00" y2="458.28" stroke="#7E7E7E" stroke-width="1.9"/>
<line x1="85.00" y1="458.28" x2="125.70" y2="458.28" stroke="#7E7E7E" stroke-width="1.9"/>
<line x1="125.70" y1="458.28" x2="166.40" y2="458.28" stroke="#7E7E7E" stroke-width="1.9"/>
<line x1="166.40" y1="458.28" x2="207.10" y2="458.28" stroke="#7E7E7E" stroke-width="1.9"/>
<line x1="207.10" y1="458.28" x2="247.80" y2="458.28" stroke="#7E7E7E" stroke-width="1.9"/>
<line x1="247.80" y1="458.28" x2="288.50" y2="458.28" stroke="#7E7E7E" stroke-width="1.9"/>
<line x1="288.50" y1="458.28" x2="329.20" y2="458.28" stroke="#7E7E7E" stroke-width="1.9"/>
<line x1="329.20" y1="458.28" x2="369.90" y2="458.28" stroke="#7E7E7E" stroke-width="1.9"/>
<line x1="369.90" y1="458.28" x2="410.60" y2="458.28" stroke="#7E7E7E" stroke-width="1.9"/>
<line x1="44.30" y1="493.50" x2="85.00" y2="493.50" stroke="#7E7E7E" stroke-width="1.9"/>
<line x1="85.00" y1="493.50" x2="125.70" y2="493.50" stroke="#7E7E7E" stroke-width="1.9"/>
<line x1="125.70" y1="493.50" x2="166.40" y2="493.50" stroke="#7E7E7E" stroke-width="1.9"/>
<line x1="166.40" y1="493.50" x2="207.10" y2="493.50" stroke="#7E7E7E" stroke-width="1.9"/>
<line x1="207.10" y1="493.50" x2="247.80" y2="493.50" stroke="#7E7E7E" stroke-width="1.9"/>
<line x1="247.80" y1="493.50" x2="288.50" y2="493.50" stroke="#7E7E7E" stroke-width="1.9"/>
<line x1="288.50" y1="493.50" x2="329.20" y2="493.50" stroke="#7E7E7E" stroke-width="1.9"/>
<line x1="329.20" y1="493.50" x2="369.90" y2="493.50" stroke="#7E7E7E" stroke-width="1.9"/>
<line x1="369.90" y1="493.50" x2="410.60" y2="493.50" stroke="#7E7E7E" stroke-width="1.9"/>
<text x="105.35" y="197.43" font-size="9.3" text-anchor="middle" fill="#111" stroke="#111" stroke-width="0.4">12 + 8</text>
<text x="146.05" y="197.43" font-size="9.3" text-anchor="middle" fill="#111" stroke="#111" stroke-width="0.4">15 + 5</text>
<text x="186.75" y="197.43" font-size="9.3" text-anchor="middle" fill="#111" stroke="#111" stroke-width="0.4">17 + 3</text>
<text x="227.45" y="197.43" font-size="9.3" text-anchor="middle" fill="#111" stroke="#111" stroke-width="0.4">14 + 6</text>
<text x="268.15" y="197.43" font-size="9.3" text-anchor="middle" fill="#111" stroke="#111" stroke-width="0.4">9 + 11</text>
<text x="308.85" y="197.43" font-size="9.3" text-anchor="middle" fill="#111" stroke="#111" stroke-width="0.4">15 + 5</text>
<text x="349.55" y="197.43" font-size="9.3" text-anchor="middle" fill="#111" stroke="#111" stroke-width="0.4">4 + 16</text>
<text x="64.65" y="232.65" font-size="9.3" text-anchor="middle" fill="#111" stroke="#111" stroke-width="0.4">6 + 6</text>
<text x="105.35" y="232.65" font-size="9.3" text-anchor="middle" fill="#111" stroke="#111" stroke-width="0.4">0 + 10</text>
<text x="146.05" y="232.65" font-size="9.3" text-anchor="middle" fill="#111" stroke="#111" stroke-width="0.4">5 + 5</text>
<text x="186.75" y="232.65" font-size="9.3" text-anchor="middle" fill="#111" stroke="#111" stroke-width="0.4">3 + 7</text>
<text x="227.45" y="232.65" font-size="9.3" text-anchor="middle" fill="#111" stroke="#111" stroke-width="0.4">8 + 12</text>
<text x="268.15" y="232.65" font-size="9.3" text-anchor="middle" fill="#111" stroke="#111" stroke-width="0.4">8 + 2</text>
<text x="308.85" y="232.65" font-size="9.3" text-anchor="middle" fill="#111" stroke="#111" stroke-width="0.4">10 + 0</text>
<text x="349.55" y="232.65" font-size="9.3" text-anchor="middle" fill="#111" stroke="#111" stroke-width="0.4">9 + 1</text>
<text x="390.25" y="232.65" font-size="9.3" text-anchor="middle" fill="#111" stroke="#111" stroke-width="0.4">8 + 4</text>
<text x="64.65" y="267.87" font-size="9.3" text-anchor="middle" fill="#111" stroke="#111" stroke-width="0.4">3 + 9</text>
<text x="105.35" y="267.87" font-size="9.3" text-anchor="middle" fill="#111" stroke="#111" stroke-width="0.4">2 + 8</text>
<text x="186.75" y="267.87" font-size="9.3" text-anchor="middle" fill="#111" stroke="#111" stroke-width="0.4">6 + 4</text>
<text x="227.45" y="267.87" font-size="9.3" text-anchor="middle" fill="#111" stroke="#111" stroke-width="0.4">20 + 0</text>
<text x="268.15" y="267.87" font-size="9.3" text-anchor="middle" fill="#111" stroke="#111" stroke-width="0.4">7 + 3</text>
<text x="349.55" y="267.87" font-size="9.3" text-anchor="middle" fill="#111" stroke="#111" stroke-width="0.4">6 + 4</text>
<text x="390.25" y="267.87" font-size="9.3" text-anchor="middle" fill="#111" stroke="#111" stroke-width="0.4">10 + 2</text>
<text x="64.65" y="303.09" font-size="9.3" text-anchor="middle" fill="#111" stroke="#111" stroke-width="0.4">14 + 6</text>
<text x="105.35" y="303.09" font-size="9.3" text-anchor="middle" fill="#111" stroke="#111" stroke-width="0.4">4 + 6</text>
<text x="146.05" y="303.09" font-size="9.3" text-anchor="middle" fill="#111" stroke="#111" stroke-width="0.4">3 + 7</text>
<text x="186.75" y="303.09" font-size="9.3" text-anchor="middle" fill="#111" stroke="#111" stroke-width="0.4">1 + 9</text>
<text x="227.45" y="303.09" font-size="9.3" text-anchor="middle" fill="#111" stroke="#111" stroke-width="0.4">7 + 13</text>
<text x="268.15" y="303.09" font-size="9.3" text-anchor="middle" fill="#111" stroke="#111" stroke-width="0.4">2 + 8</text>
<text x="308.85" y="303.09" font-size="9.3" text-anchor="middle" fill="#111" stroke="#111" stroke-width="0.4">1 + 9</text>
<text x="349.55" y="303.09" font-size="9.3" text-anchor="middle" fill="#111" stroke="#111" stroke-width="0.4">3 + 7</text>
<text x="390.25" y="303.09" font-size="9.3" text-anchor="middle" fill="#111" stroke="#111" stroke-width="0.4">0 + 20</text>
<text x="64.65" y="338.31" font-size="9.3" text-anchor="middle" fill="#111" stroke="#111" stroke-width="0.4">0 + 20</text>
<text x="105.35" y="338.31" font-size="9.3" text-anchor="middle" fill="#111" stroke="#111" stroke-width="0.4">3 + 17</text>
<text x="146.05" y="338.31" font-size="9.3" text-anchor="middle" fill="#111" stroke="#111" stroke-width="0.4">11 + 9</text>
<text x="186.75" y="338.31" font-size="9.3" text-anchor="middle" fill="#111" stroke="#111" stroke-width="0.4">2 + 18</text>
<text x="227.45" y="338.31" font-size="9.3" text-anchor="middle" fill="#111" stroke="#111" stroke-width="0.4">5 + 15</text>
<text x="268.15" y="338.31" font-size="9.3" text-anchor="middle" fill="#111" stroke="#111" stroke-width="0.4">6 + 14</text>
<text x="308.85" y="338.31" font-size="9.3" text-anchor="middle" fill="#111" stroke="#111" stroke-width="0.4">9 + 11</text>
<text x="349.55" y="338.31" font-size="9.3" text-anchor="middle" fill="#111" stroke="#111" stroke-width="0.4">12 + 8</text>
<text x="390.25" y="338.31" font-size="9.3" text-anchor="middle" fill="#111" stroke="#111" stroke-width="0.4">5 + 15</text>
<text x="64.65" y="373.53" font-size="9.3" text-anchor="middle" fill="#111" stroke="#111" stroke-width="0.4">14 + 1</text>
<text x="105.35" y="373.53" font-size="9.3" text-anchor="middle" fill="#111" stroke="#111" stroke-width="0.4">7 + 8</text>
<text x="146.05" y="373.53" font-size="9.3" text-anchor="middle" fill="#111" stroke="#111" stroke-width="0.4">19 + 1</text>
<text x="186.75" y="373.53" font-size="9.3" text-anchor="middle" fill="#111" stroke="#111" stroke-width="0.4">4 + 2</text>
<text x="227.45" y="373.53" font-size="9.3" text-anchor="middle" fill="#111" stroke="#111" stroke-width="0.4">3 + 3</text>
<text x="268.15" y="373.53" font-size="9.3" text-anchor="middle" fill="#111" stroke="#111" stroke-width="0.4">6 + 0</text>
<text x="308.85" y="373.53" font-size="9.3" text-anchor="middle" fill="#111" stroke="#111" stroke-width="0.4">18 + 2</text>
<text x="349.55" y="373.53" font-size="9.3" text-anchor="middle" fill="#111" stroke="#111" stroke-width="0.4">9 + 6</text>
<text x="390.25" y="373.53" font-size="9.3" text-anchor="middle" fill="#111" stroke="#111" stroke-width="0.4">0 + 15</text>
<text x="64.65" y="408.75" font-size="9.3" text-anchor="middle" fill="#111" stroke="#111" stroke-width="0.4">2 + 13</text>
<text x="105.35" y="408.75" font-size="9.3" text-anchor="middle" fill="#111" stroke="#111" stroke-width="0.4">12 + 3</text>
<text x="146.05" y="408.75" font-size="9.3" text-anchor="middle" fill="#111" stroke="#111" stroke-width="0.4">16 + 4</text>
<text x="186.75" y="408.75" font-size="9.3" text-anchor="middle" fill="#111" stroke="#111" stroke-width="0.4">0 + 6</text>
<text x="227.45" y="408.75" font-size="9.3" text-anchor="middle" fill="#111" stroke="#111" stroke-width="0.4">3 + 3</text>
<text x="268.15" y="408.75" font-size="9.3" text-anchor="middle" fill="#111" stroke="#111" stroke-width="0.4">5 + 1</text>
<text x="308.85" y="408.75" font-size="9.3" text-anchor="middle" fill="#111" stroke="#111" stroke-width="0.4">20 + 0</text>
<text x="349.55" y="408.75" font-size="9.3" text-anchor="middle" fill="#111" stroke="#111" stroke-width="0.4">10 + 5</text>
<text x="390.25" y="408.75" font-size="9.3" text-anchor="middle" fill="#111" stroke="#111" stroke-width="0.4">4 + 11</text>
<text x="105.35" y="443.97" font-size="9.3" text-anchor="middle" fill="#111" stroke="#111" stroke-width="0.4">1 + 19</text>
<text x="146.05" y="443.97" font-size="9.3" text-anchor="middle" fill="#111" stroke="#111" stroke-width="0.4">15 + 5</text>
<text x="186.75" y="443.97" font-size="9.3" text-anchor="middle" fill="#111" stroke="#111" stroke-width="0.4">4 + 16</text>
<text x="227.45" y="443.97" font-size="9.3" text-anchor="middle" fill="#111" stroke="#111" stroke-width="0.4">13 + 7</text>
<text x="268.15" y="443.97" font-size="9.3" text-anchor="middle" fill="#111" stroke="#111" stroke-width="0.4">6 + 14</text>
<text x="308.85" y="443.97" font-size="9.3" text-anchor="middle" fill="#111" stroke="#111" stroke-width="0.4">1 + 19</text>
<text x="349.55" y="443.97" font-size="9.3" text-anchor="middle" fill="#111" stroke="#111" stroke-width="0.4">16 + 4</text>
<text x="44.10" y="507.50" font-size="10.5" textLength="247.40" lengthAdjust="spacingAndGlyphs" stroke="#231F20" stroke-width="0.4">Write 3 addition calculations where the total is 20.</text>
<text x="48.80" y="525.80" font-size="9" font-weight="bold" stroke="#231F20" stroke-width="0.4">1.</text>
<text x="48.80" y="547.60" font-size="9" font-weight="bold" stroke="#231F20" stroke-width="0.4">2.</text>
<text x="234.40" y="525.40" font-size="9" font-weight="bold" stroke="#231F20" stroke-width="0.4">3.</text>
<line x1="61.20" y1="526.70" x2="220.50" y2="526.70" stroke="#8C8C8C" stroke-width="1.6"/>
<line x1="61.20" y1="548.20" x2="220.00" y2="548.20" stroke="#8C8C8C" stroke-width="1.6"/>
<line x1="248.60" y1="526.30" x2="407.80" y2="526.30" stroke="#8C8C8C" stroke-width="1.6"/>
<line x1="44.30" y1="562.30" x2="410.70" y2="562.30" stroke="#454545" stroke-width="2.4"/>
<g transform="translate(43.80,567.20) scale(1.0)"><ellipse cx="16.2" cy="8.4" rx="14.6" ry="5.8" fill="#000"/><circle cx="5.2" cy="7.8" r="4.9" fill="#000"/><circle cx="11.4" cy="13.2" r="4.6" fill="#000"/><circle cx="17.5" cy="12.5" r="3.8" fill="#000"/><circle cx="18.3" cy="3.3" r="4.1" fill="#000"/><circle cx="11.5" cy="4.3" r="3.4" fill="#000"/><circle cx="27.8" cy="5.4" r="4.2" fill="#000"/><circle cx="24.5" cy="10" r="3.6" fill="#000"/><text x="14.9" y="10.3" font-size="6.6" font-weight="bold" fill="#fff" text-anchor="middle" textLength="20" lengthAdjust="spacingAndGlyphs">twinkl</text></g>
<g transform="translate(410.70,562.00)"><text x="-62.8" y="15.2" font-size="4.6" font-weight="bold" fill="#222" stroke="#222" stroke-width="0.35" textLength="36" lengthAdjust="spacingAndGlyphs">visit twinkl.co.uk</text><ellipse cx="-10.6" cy="9.9" rx="9.9" ry="4.4" fill="#000"/><circle cx="-8.4" cy="6.8" r="3.1" fill="#000"/><circle cx="-13.2" cy="12.7" r="3.1" fill="#000"/><circle cx="-18" cy="9.2" r="2.6" fill="#000"/><circle cx="-3.2" cy="8.6" r="2.4" fill="#000"/><ellipse cx="-11.3" cy="9.8" rx="5.8" ry="1.5" fill="#fff" opacity="0.8"/><path d="M-21 17.5 L-12.5 22 L-4 17.5 M-21 17.5 L-21 24 L-4 24" fill="none" stroke="#e2e2e2" stroke-width="1.6"/><path d="M-4.3 23.2 L0.9 18.5" fill="none" stroke="#000" stroke-width="1.9" stroke-linecap="round"/></g></svg></div>
<div class="pg" style="left:830.3px;top:30px;width:407.3px;height:575px;z-index:6;"><svg width="407.3" height="575" viewBox="830.3 30 407.3 575"><text x="860.00" y="69.40" font-size="18.8" font-weight="bold" textLength="267.20" lengthAdjust="spacingAndGlyphs" stroke="#231F20" stroke-width="0.4">Emoji Addition Facts Up to 20</text>
<text x="1132.60" y="69.40" font-size="18.8" font-weight="bold" textLength="77.80" lengthAdjust="spacingAndGlyphs" stroke="#231F20" stroke-width="0.6">Answers</text>
<text x="913.40" y="89.50" font-size="10.2" font-style="italic" textLength="242.40" lengthAdjust="spacingAndGlyphs" stroke="#231F20" stroke-width="0.4">Solve the calculations to reveal the hidden picture.</text>
<text x="954.00" y="102.80" font-size="10.2" font-style="italic" textLength="161.00" lengthAdjust="spacingAndGlyphs" stroke="#231F20" stroke-width="0.4">Each answer has a special colour.</text>
<text x="855.30" y="126.40" font-size="10.2" textLength="52.40" lengthAdjust="spacingAndGlyphs" stroke="#231F20" stroke-width="0.4">20 = yellow</text>
<text x="923.60" y="126.40" font-size="10.2" textLength="38.70" lengthAdjust="spacingAndGlyphs" stroke="#231F20" stroke-width="0.4">12 = blue</text>
<text x="981.80" y="126.40" font-size="10.2" textLength="45.50" lengthAdjust="spacingAndGlyphs" stroke="#231F20" stroke-width="0.4">10 = white</text>
<text x="1050.50" y="126.40" font-size="10.2" textLength="30.40" lengthAdjust="spacingAndGlyphs" stroke="#231F20" stroke-width="0.4">6 = red</text>
<text x="1101.60" y="126.40" font-size="10.2" textLength="38.70" lengthAdjust="spacingAndGlyphs" stroke="#231F20" stroke-width="0.4">15 = pink</text>
<text x="1156.40" y="119.00" font-size="10.2" textLength="52.00" lengthAdjust="spacingAndGlyphs" stroke="#231F20" stroke-width="0.4">background</text>
<text x="1150.50" y="132.90" font-size="10.2" textLength="63.20" lengthAdjust="spacingAndGlyphs" stroke="#231F20" stroke-width="0.4">colour = black</text>
<rect x="850.50" y="138.90" width="41.93" height="36.42" fill="#231F20"/>
<rect x="891.23" y="138.90" width="41.93" height="36.42" fill="#231F20"/>
<rect x="931.96" y="138.90" width="41.93" height="36.42" fill="#231F20"/>
<rect x="972.69" y="138.90" width="41.93" height="36.42" fill="#231F20"/>
<rect x="1013.42" y="138.90" width="41.93" height="36.42" fill="#231F20"/>
<rect x="1054.15" y="138.90" width="41.93" height="36.42" fill="#231F20"/>
<rect x="1094.88" y="138.90" width="41.93" height="36.42" fill="#231F20"/>
<rect x="1135.61" y="138.90" width="41.93" height="36.42" fill="#231F20"/>
<rect x="1176.34" y="138.90" width="41.93" height="36.42" fill="#231F20"/>
<rect x="850.50" y="174.12" width="41.93" height="36.42" fill="#231F20"/>
<rect x="891.83" y="174.72" width="40.78" height="35.27" fill="#FFE500"/>
<rect x="932.56" y="174.72" width="40.78" height="35.27" fill="#FFE500"/>
<rect x="973.29" y="174.72" width="40.78" height="35.27" fill="#FFE500"/>
<rect x="1014.02" y="174.72" width="40.78" height="35.27" fill="#FFE500"/>
<rect x="1054.75" y="174.72" width="40.78" height="35.27" fill="#FFE500"/>
<rect x="1095.48" y="174.72" width="40.78" height="35.27" fill="#FFE500"/>
<rect x="1136.21" y="174.72" width="40.78" height="35.27" fill="#FFE500"/>
<rect x="1176.34" y="174.12" width="41.93" height="36.42" fill="#231F20"/>
<rect x="851.10" y="209.94" width="40.78" height="35.27" fill="#00AEEF"/>
<rect x="1014.02" y="209.94" width="40.78" height="35.27" fill="#FFE500"/>
<rect x="1176.94" y="209.94" width="40.78" height="35.27" fill="#00AEEF"/>
<rect x="851.10" y="245.16" width="40.78" height="35.27" fill="#00AEEF"/>
<rect x="931.96" y="244.56" width="41.93" height="36.42" fill="#231F20"/>
<rect x="1014.02" y="245.16" width="40.78" height="35.27" fill="#FFE500"/>
<rect x="1094.88" y="244.56" width="41.93" height="36.42" fill="#231F20"/>
<rect x="1176.94" y="245.16" width="40.78" height="35.27" fill="#00AEEF"/>
<rect x="851.10" y="280.38" width="40.78" height="35.27" fill="#FFE500"/>
<rect x="1014.02" y="280.38" width="40.78" height="35.27" fill="#FFE500"/>
<rect x="1176.94" y="280.38" width="40.78" height="35.27" fill="#FFE500"/>
<rect x="851.10" y="315.60" width="40.78" height="35.27" fill="#FFE500"/>
<rect x="891.83" y="315.60" width="40.78" height="35.27" fill="#FFE500"/>
<rect x="932.56" y="315.60" width="40.78" height="35.27" fill="#FFE500"/>
<rect x="973.29" y="315.60" width="40.78" height="35.27" fill="#FFE500"/>
<rect x="1014.02" y="315.60" width="40.78" height="35.27" fill="#FFE500"/>
<rect x="1054.75" y="315.60" width="40.78" height="35.27" fill="#FFE500"/>
<rect x="1095.48" y="315.60" width="40.78" height="35.27" fill="#FFE500"/>
<rect x="1136.21" y="315.60" width="40.78" height="35.27" fill="#FFE500"/>
<rect x="1176.94" y="315.60" width="40.78" height="35.27" fill="#FFE500"/>
<rect x="851.10" y="350.82" width="40.78" height="35.27" fill="#EF7CB5"/>
<rect x="891.83" y="350.82" width="40.78" height="35.27" fill="#EF7CB5"/>
<rect x="932.56" y="350.82" width="40.78" height="35.27" fill="#FFE500"/>
<rect x="973.29" y="350.82" width="40.78" height="35.27" fill="#EE3136"/>
<rect x="1014.02" y="350.82" width="40.78" height="35.27" fill="#EE3136"/>
<rect x="1054.75" y="350.82" width="40.78" height="35.27" fill="#EE3136"/>
<rect x="1095.48" y="350.82" width="40.78" height="35.27" fill="#FFE500"/>
<rect x="1136.21" y="350.82" width="40.78" height="35.27" fill="#EF7CB5"/>
<rect x="1176.94" y="350.82" width="40.78" height="35.27" fill="#EF7CB5"/>
<rect x="851.10" y="386.04" width="40.78" height="35.27" fill="#EF7CB5"/>
<rect x="891.83" y="386.04" width="40.78" height="35.27" fill="#EF7CB5"/>
<rect x="932.56" y="386.04" width="40.78" height="35.27" fill="#FFE500"/>
<rect x="973.29" y="386.04" width="40.78" height="35.27" fill="#EE3136"/>
<rect x="1014.02" y="386.04" width="40.78" height="35.27" fill="#EE3136"/>
<rect x="1054.75" y="386.04" width="40.78" height="35.27" fill="#EE3136"/>
<rect x="1095.48" y="386.04" width="40.78" height="35.27" fill="#FFE500"/>
<rect x="1136.21" y="386.04" width="40.78" height="35.27" fill="#EF7CB5"/>
<rect x="1176.94" y="386.04" width="40.78" height="35.27" fill="#EF7CB5"/>
<rect x="850.50" y="420.66" width="41.93" height="36.42" fill="#231F20"/>
<rect x="891.83" y="421.26" width="40.78" height="35.27" fill="#FFE500"/>
<rect x="932.56" y="421.26" width="40.78" height="35.27" fill="#FFE500"/>
<rect x="973.29" y="421.26" width="40.78" height="35.27" fill="#FFE500"/>
<rect x="1014.02" y="421.26" width="40.78" height="35.27" fill="#FFE500"/>
<rect x="1054.75" y="421.26" width="40.78" height="35.27" fill="#FFE500"/>
<rect x="1095.48" y="421.26" width="40.78" height="35.27" fill="#FFE500"/>
<rect x="1136.21" y="421.26" width="40.78" height="35.27" fill="#FFE500"/>
<rect x="1176.34" y="420.66" width="41.93" height="36.42" fill="#231F20"/>
<rect x="850.50" y="455.88" width="41.93" height="36.42" fill="#231F20"/>
<rect x="891.23" y="455.88" width="41.93" height="36.42" fill="#231F20"/>
<rect x="931.96" y="455.88" width="41.93" height="36.42" fill="#231F20"/>
<rect x="972.69" y="455.88" width="41.93" height="36.42" fill="#231F20"/>
<rect x="1013.42" y="455.88" width="41.93" height="36.42" fill="#231F20"/>
<rect x="1054.15" y="455.88" width="41.93" height="36.42" fill="#231F20"/>
<rect x="1094.88" y="455.88" width="41.93" height="36.42" fill="#231F20"/>
<rect x="1135.61" y="455.88" width="41.93" height="36.42" fill="#231F20"/>
<rect x="1176.34" y="455.88" width="41.93" height="36.42" fill="#231F20"/>
<line x1="932.56" y1="174.72" x2="932.56" y2="209.94" stroke="rgba(20,20,20,0.55)" stroke-width="1.6"/>
<line x1="973.29" y1="174.72" x2="973.29" y2="209.94" stroke="rgba(20,20,20,0.55)" stroke-width="1.6"/>
<line x1="1014.02" y1="174.72" x2="1014.02" y2="209.94" stroke="rgba(20,20,20,0.55)" stroke-width="1.6"/>
<line x1="1054.75" y1="174.72" x2="1054.75" y2="209.94" stroke="rgba(20,20,20,0.55)" stroke-width="1.6"/>
<line x1="1095.48" y1="174.72" x2="1095.48" y2="209.94" stroke="rgba(20,20,20,0.55)" stroke-width="1.6"/>
<line x1="1136.21" y1="174.72" x2="1136.21" y2="209.94" stroke="rgba(20,20,20,0.55)" stroke-width="1.6"/>
<line x1="851.10" y1="209.94" x2="851.10" y2="245.16" stroke="rgba(20,20,20,0.55)" stroke-width="1.6"/>
<line x1="891.83" y1="209.94" x2="891.83" y2="245.16" stroke="rgba(20,20,20,0.55)" stroke-width="1.6"/>
<line x1="932.56" y1="209.94" x2="932.56" y2="245.16" stroke="rgba(20,20,20,0.55)" stroke-width="1.6"/>
<line x1="973.29" y1="209.94" x2="973.29" y2="245.16" stroke="rgba(20,20,20,0.55)" stroke-width="1.6"/>
<line x1="1014.02" y1="209.94" x2="1014.02" y2="245.16" stroke="rgba(20,20,20,0.55)" stroke-width="1.6"/>
<line x1="1054.75" y1="209.94" x2="1054.75" y2="245.16" stroke="rgba(20,20,20,0.55)" stroke-width="1.6"/>
<line x1="1095.48" y1="209.94" x2="1095.48" y2="245.16" stroke="rgba(20,20,20,0.55)" stroke-width="1.6"/>
<line x1="1136.21" y1="209.94" x2="1136.21" y2="245.16" stroke="rgba(20,20,20,0.55)" stroke-width="1.6"/>
<line x1="1176.94" y1="209.94" x2="1176.94" y2="245.16" stroke="rgba(20,20,20,0.55)" stroke-width="1.6"/>
<line x1="1217.67" y1="209.94" x2="1217.67" y2="245.16" stroke="rgba(20,20,20,0.55)" stroke-width="1.6"/>
<line x1="851.10" y1="245.16" x2="851.10" y2="280.38" stroke="rgba(20,20,20,0.55)" stroke-width="1.6"/>
<line x1="891.83" y1="245.16" x2="891.83" y2="280.38" stroke="rgba(20,20,20,0.55)" stroke-width="1.6"/>
<line x1="1014.02" y1="245.16" x2="1014.02" y2="280.38" stroke="rgba(20,20,20,0.55)" stroke-width="1.6"/>
<line x1="1054.75" y1="245.16" x2="1054.75" y2="280.38" stroke="rgba(20,20,20,0.55)" stroke-width="1.6"/>
<line x1="1176.94" y1="245.16" x2="1176.94" y2="280.38" stroke="rgba(20,20,20,0.55)" stroke-width="1.6"/>
<line x1="1217.67" y1="245.16" x2="1217.67" y2="280.38" stroke="rgba(20,20,20,0.55)" stroke-width="1.6"/>
<line x1="851.10" y1="280.38" x2="851.10" y2="315.60" stroke="rgba(20,20,20,0.55)" stroke-width="1.6"/>
<line x1="891.83" y1="280.38" x2="891.83" y2="315.60" stroke="rgba(20,20,20,0.55)" stroke-width="1.6"/>
<line x1="932.56" y1="280.38" x2="932.56" y2="315.60" stroke="rgba(20,20,20,0.55)" stroke-width="1.6"/>
<line x1="973.29" y1="280.38" x2="973.29" y2="315.60" stroke="rgba(20,20,20,0.55)" stroke-width="1.6"/>
<line x1="1014.02" y1="280.38" x2="1014.02" y2="315.60" stroke="rgba(20,20,20,0.55)" stroke-width="1.6"/>
<line x1="1054.75" y1="280.38" x2="1054.75" y2="315.60" stroke="rgba(20,20,20,0.55)" stroke-width="1.6"/>
<line x1="1095.48" y1="280.38" x2="1095.48" y2="315.60" stroke="rgba(20,20,20,0.55)" stroke-width="1.6"/>
<line x1="1136.21" y1="280.38" x2="1136.21" y2="315.60" stroke="rgba(20,20,20,0.55)" stroke-width="1.6"/>
<line x1="1176.94" y1="280.38" x2="1176.94" y2="315.60" stroke="rgba(20,20,20,0.55)" stroke-width="1.6"/>
<line x1="1217.67" y1="280.38" x2="1217.67" y2="315.60" stroke="rgba(20,20,20,0.55)" stroke-width="1.6"/>
<line x1="851.10" y1="315.60" x2="851.10" y2="350.82" stroke="rgba(20,20,20,0.55)" stroke-width="1.6"/>
<line x1="891.83" y1="315.60" x2="891.83" y2="350.82" stroke="rgba(20,20,20,0.55)" stroke-width="1.6"/>
<line x1="932.56" y1="315.60" x2="932.56" y2="350.82" stroke="rgba(20,20,20,0.55)" stroke-width="1.6"/>
<line x1="973.29" y1="315.60" x2="973.29" y2="350.82" stroke="rgba(20,20,20,0.55)" stroke-width="1.6"/>
<line x1="1014.02" y1="315.60" x2="1014.02" y2="350.82" stroke="rgba(20,20,20,0.55)" stroke-width="1.6"/>
<line x1="1054.75" y1="315.60" x2="1054.75" y2="350.82" stroke="rgba(20,20,20,0.55)" stroke-width="1.6"/>
<line x1="1095.48" y1="315.60" x2="1095.48" y2="350.82" stroke="rgba(20,20,20,0.55)" stroke-width="1.6"/>
<line x1="1136.21" y1="315.60" x2="1136.21" y2="350.82" stroke="rgba(20,20,20,0.55)" stroke-width="1.6"/>
<line x1="1176.94" y1="315.60" x2="1176.94" y2="350.82" stroke="rgba(20,20,20,0.55)" stroke-width="1.6"/>
<line x1="1217.67" y1="315.60" x2="1217.67" y2="350.82" stroke="rgba(20,20,20,0.55)" stroke-width="1.6"/>
<line x1="851.10" y1="350.82" x2="851.10" y2="386.04" stroke="rgba(20,20,20,0.55)" stroke-width="1.6"/>
<line x1="891.83" y1="350.82" x2="891.83" y2="386.04" stroke="rgba(20,20,20,0.55)" stroke-width="1.6"/>
<line x1="932.56" y1="350.82" x2="932.56" y2="386.04" stroke="rgba(20,20,20,0.55)" stroke-width="1.6"/>
<line x1="973.29" y1="350.82" x2="973.29" y2="386.04" stroke="rgba(20,20,20,0.55)" stroke-width="1.6"/>
<line x1="1014.02" y1="350.82" x2="1014.02" y2="386.04" stroke="rgba(20,20,20,0.55)" stroke-width="1.6"/>
<line x1="1054.75" y1="350.82" x2="1054.75" y2="386.04" stroke="rgba(20,20,20,0.55)" stroke-width="1.6"/>
<line x1="1095.48" y1="350.82" x2="1095.48" y2="386.04" stroke="rgba(20,20,20,0.55)" stroke-width="1.6"/>
<line x1="1136.21" y1="350.82" x2="1136.21" y2="386.04" stroke="rgba(20,20,20,0.55)" stroke-width="1.6"/>
<line x1="1176.94" y1="350.82" x2="1176.94" y2="386.04" stroke="rgba(20,20,20,0.55)" stroke-width="1.6"/>
<line x1="1217.67" y1="350.82" x2="1217.67" y2="386.04" stroke="rgba(20,20,20,0.55)" stroke-width="1.6"/>
<line x1="851.10" y1="386.04" x2="851.10" y2="421.26" stroke="rgba(20,20,20,0.55)" stroke-width="1.6"/>
<line x1="891.83" y1="386.04" x2="891.83" y2="421.26" stroke="rgba(20,20,20,0.55)" stroke-width="1.6"/>
<line x1="932.56" y1="386.04" x2="932.56" y2="421.26" stroke="rgba(20,20,20,0.55)" stroke-width="1.6"/>
<line x1="973.29" y1="386.04" x2="973.29" y2="421.26" stroke="rgba(20,20,20,0.55)" stroke-width="1.6"/>
<line x1="1014.02" y1="386.04" x2="1014.02" y2="421.26" stroke="rgba(20,20,20,0.55)" stroke-width="1.6"/>
<line x1="1054.75" y1="386.04" x2="1054.75" y2="421.26" stroke="rgba(20,20,20,0.55)" stroke-width="1.6"/>
<line x1="1095.48" y1="386.04" x2="1095.48" y2="421.26" stroke="rgba(20,20,20,0.55)" stroke-width="1.6"/>
<line x1="1136.21" y1="386.04" x2="1136.21" y2="421.26" stroke="rgba(20,20,20,0.55)" stroke-width="1.6"/>
<line x1="1176.94" y1="386.04" x2="1176.94" y2="421.26" stroke="rgba(20,20,20,0.55)" stroke-width="1.6"/>
<line x1="1217.67" y1="386.04" x2="1217.67" y2="421.26" stroke="rgba(20,20,20,0.55)" stroke-width="1.6"/>
<line x1="932.56" y1="421.26" x2="932.56" y2="456.48" stroke="rgba(20,20,20,0.55)" stroke-width="1.6"/>
<line x1="973.29" y1="421.26" x2="973.29" y2="456.48" stroke="rgba(20,20,20,0.55)" stroke-width="1.6"/>
<line x1="1014.02" y1="421.26" x2="1014.02" y2="456.48" stroke="rgba(20,20,20,0.55)" stroke-width="1.6"/>
<line x1="1054.75" y1="421.26" x2="1054.75" y2="456.48" stroke="rgba(20,20,20,0.55)" stroke-width="1.6"/>
<line x1="1095.48" y1="421.26" x2="1095.48" y2="456.48" stroke="rgba(20,20,20,0.55)" stroke-width="1.6"/>
<line x1="1136.21" y1="421.26" x2="1136.21" y2="456.48" stroke="rgba(20,20,20,0.55)" stroke-width="1.6"/>
<line x1="891.83" y1="209.94" x2="932.56" y2="209.94" stroke="rgba(20,20,20,0.55)" stroke-width="1.6"/>
<line x1="932.56" y1="209.94" x2="973.29" y2="209.94" stroke="rgba(20,20,20,0.55)" stroke-width="1.6"/>
<line x1="973.29" y1="209.94" x2="1014.02" y2="209.94" stroke="rgba(20,20,20,0.55)" stroke-width="1.6"/>
<line x1="1014.02" y1="209.94" x2="1054.75" y2="209.94" stroke="rgba(20,20,20,0.55)" stroke-width="1.6"/>
<line x1="1054.75" y1="209.94" x2="1095.48" y2="209.94" stroke="rgba(20,20,20,0.55)" stroke-width="1.6"/>
<line x1="1095.48" y1="209.94" x2="1136.21" y2="209.94" stroke="rgba(20,20,20,0.55)" stroke-width="1.6"/>
<line x1="1136.21" y1="209.94" x2="1176.94" y2="209.94" stroke="rgba(20,20,20,0.55)" stroke-width="1.6"/>
<line x1="851.10" y1="245.16" x2="891.83" y2="245.16" stroke="rgba(20,20,20,0.55)" stroke-width="1.6"/>
<line x1="891.83" y1="245.16" x2="932.56" y2="245.16" stroke="rgba(20,20,20,0.55)" stroke-width="1.6"/>
<line x1="973.29" y1="245.16" x2="1014.02" y2="245.16" stroke="rgba(20,20,20,0.55)" stroke-width="1.6"/>
<line x1="1014.02" y1="245.16" x2="1054.75" y2="245.16" stroke="rgba(20,20,20,0.55)" stroke-width="1.6"/>
<line x1="1054.75" y1="245.16" x2="1095.48" y2="245.16" stroke="rgba(20,20,20,0.55)" stroke-width="1.6"/>
<line x1="1136.21" y1="245.16" x2="1176.94" y2="245.16" stroke="rgba(20,20,20,0.55)" stroke-width="1.6"/>
<line x1="1176.94" y1="245.16" x2="1217.67" y2="245.16" stroke="rgba(20,20,20,0.55)" stroke-width="1.6"/>
<line x1="851.10" y1="280.38" x2="891.83" y2="280.38" stroke="rgba(20,20,20,0.55)" stroke-width="1.6"/>
<line x1="891.83" y1="280.38" x2="932.56" y2="280.38" stroke="rgba(20,20,20,0.55)" stroke-width="1.6"/>
<line x1="973.29" y1="280.38" x2="1014.02" y2="280.38" stroke="rgba(20,20,20,0.55)" stroke-width="1.6"/>
<line x1="1014.02" y1="280.38" x2="1054.75" y2="280.38" stroke="rgba(20,20,20,0.55)" stroke-width="1.6"/>
<line x1="1054.75" y1="280.38" x2="1095.48" y2="280.38" stroke="rgba(20,20,20,0.55)" stroke-width="1.6"/>
<line x1="1136.21" y1="280.38" x2="1176.94" y2="280.38" stroke="rgba(20,20,20,0.55)" stroke-width="1.6"/>
<line x1="1176.94" y1="280.38" x2="1217.67" y2="280.38" stroke="rgba(20,20,20,0.55)" stroke-width="1.6"/>
<line x1="851.10" y1="315.60" x2="891.83" y2="315.60" stroke="rgba(20,20,20,0.55)" stroke-width="1.6"/>
<line x1="891.83" y1="315.60" x2="932.56" y2="315.60" stroke="rgba(20,20,20,0.55)" stroke-width="1.6"/>
<line x1="932.56" y1="315.60" x2="973.29" y2="315.60" stroke="rgba(20,20,20,0.55)" stroke-width="1.6"/>
<line x1="973.29" y1="315.60" x2="1014.02" y2="315.60" stroke="rgba(20,20,20,0.55)" stroke-width="1.6"/>
<line x1="1014.02" y1="315.60" x2="1054.75" y2="315.60" stroke="rgba(20,20,20,0.55)" stroke-width="1.6"/>
<line x1="1054.75" y1="315.60" x2="1095.48" y2="315.60" stroke="rgba(20,20,20,0.55)" stroke-width="1.6"/>
<line x1="1095.48" y1="315.60" x2="1136.21" y2="315.60" stroke="rgba(20,20,20,0.55)" stroke-width="1.6"/>
<line x1="1136.21" y1="315.60" x2="1176.94" y2="315.60" stroke="rgba(20,20,20,0.55)" stroke-width="1.6"/>
<line x1="1176.94" y1="315.60" x2="1217.67" y2="315.60" stroke="rgba(20,20,20,0.55)" stroke-width="1.6"/>
<line x1="851.10" y1="350.82" x2="891.83" y2="350.82" stroke="rgba(20,20,20,0.55)" stroke-width="1.6"/>
<line x1="891.83" y1="350.82" x2="932.56" y2="350.82" stroke="rgba(20,20,20,0.55)" stroke-width="1.6"/>
<line x1="932.56" y1="350.82" x2="973.29" y2="350.82" stroke="rgba(20,20,20,0.55)" stroke-width="1.6"/>
<line x1="973.29" y1="350.82" x2="1014.02" y2="350.82" stroke="rgba(20,20,20,0.55)" stroke-width="1.6"/>
<line x1="1014.02" y1="350.82" x2="1054.75" y2="350.82" stroke="rgba(20,20,20,0.55)" stroke-width="1.6"/>
<line x1="1054.75" y1="350.82" x2="1095.48" y2="350.82" stroke="rgba(20,20,20,0.55)" stroke-width="1.6"/>
<line x1="1095.48" y1="350.82" x2="1136.21" y2="350.82" stroke="rgba(20,20,20,0.55)" stroke-width="1.6"/>
<line x1="1136.21" y1="350.82" x2="1176.94" y2="350.82" stroke="rgba(20,20,20,0.55)" stroke-width="1.6"/>
<line x1="1176.94" y1="350.82" x2="1217.67" y2="350.82" stroke="rgba(20,20,20,0.55)" stroke-width="1.6"/>
<line x1="851.10" y1="386.04" x2="891.83" y2="386.04" stroke="rgba(20,20,20,0.55)" stroke-width="1.6"/>
<line x1="891.83" y1="386.04" x2="932.56" y2="386.04" stroke="rgba(20,20,20,0.55)" stroke-width="1.6"/>
<line x1="932.56" y1="386.04" x2="973.29" y2="386.04" stroke="rgba(20,20,20,0.55)" stroke-width="1.6"/>
<line x1="973.29" y1="386.04" x2="1014.02" y2="386.04" stroke="rgba(20,20,20,0.55)" stroke-width="1.6"/>
<line x1="1014.02" y1="386.04" x2="1054.75" y2="386.04" stroke="rgba(20,20,20,0.55)" stroke-width="1.6"/>
<line x1="1054.75" y1="386.04" x2="1095.48" y2="386.04" stroke="rgba(20,20,20,0.55)" stroke-width="1.6"/>
<line x1="1095.48" y1="386.04" x2="1136.21" y2="386.04" stroke="rgba(20,20,20,0.55)" stroke-width="1.6"/>
<line x1="1136.21" y1="386.04" x2="1176.94" y2="386.04" stroke="rgba(20,20,20,0.55)" stroke-width="1.6"/>
<line x1="1176.94" y1="386.04" x2="1217.67" y2="386.04" stroke="rgba(20,20,20,0.55)" stroke-width="1.6"/>
<line x1="891.83" y1="421.26" x2="932.56" y2="421.26" stroke="rgba(20,20,20,0.55)" stroke-width="1.6"/>
<line x1="932.56" y1="421.26" x2="973.29" y2="421.26" stroke="rgba(20,20,20,0.55)" stroke-width="1.6"/>
<line x1="973.29" y1="421.26" x2="1014.02" y2="421.26" stroke="rgba(20,20,20,0.55)" stroke-width="1.6"/>
<line x1="1014.02" y1="421.26" x2="1054.75" y2="421.26" stroke="rgba(20,20,20,0.55)" stroke-width="1.6"/>
<line x1="1054.75" y1="421.26" x2="1095.48" y2="421.26" stroke="rgba(20,20,20,0.55)" stroke-width="1.6"/>
<line x1="1095.48" y1="421.26" x2="1136.21" y2="421.26" stroke="rgba(20,20,20,0.55)" stroke-width="1.6"/>
<line x1="1136.21" y1="421.26" x2="1176.94" y2="421.26" stroke="rgba(20,20,20,0.55)" stroke-width="1.6"/>
<line x1="851.10" y1="139.50" x2="851.10" y2="174.72" stroke="#000" stroke-width="2.6" stroke-linecap="square"/>
<line x1="1217.67" y1="139.50" x2="1217.67" y2="174.72" stroke="#000" stroke-width="2.6" stroke-linecap="square"/>
<line x1="851.10" y1="174.72" x2="851.10" y2="209.94" stroke="#000" stroke-width="2.6" stroke-linecap="square"/>
<line x1="891.83" y1="174.72" x2="891.83" y2="209.94" stroke="#000" stroke-width="2.6" stroke-linecap="square"/>
<line x1="1176.94" y1="174.72" x2="1176.94" y2="209.94" stroke="#000" stroke-width="2.6" stroke-linecap="square"/>
<line x1="1217.67" y1="174.72" x2="1217.67" y2="209.94" stroke="#000" stroke-width="2.6" stroke-linecap="square"/>
<line x1="932.56" y1="245.16" x2="932.56" y2="280.38" stroke="#000" stroke-width="2.6" stroke-linecap="square"/>
<line x1="973.29" y1="245.16" x2="973.29" y2="280.38" stroke="#000" stroke-width="2.6" stroke-linecap="square"/>
<line x1="1095.48" y1="245.16" x2="1095.48" y2="280.38" stroke="#000" stroke-width="2.6" stroke-linecap="square"/>
<line x1="1136.21" y1="245.16" x2="1136.21" y2="280.38" stroke="#000" stroke-width="2.6" stroke-linecap="square"/>
<line x1="851.10" y1="421.26" x2="851.10" y2="456.48" stroke="#000" stroke-width="2.6" stroke-linecap="square"/>
<line x1="891.83" y1="421.26" x2="891.83" y2="456.48" stroke="#000" stroke-width="2.6" stroke-linecap="square"/>
<line x1="1176.94" y1="421.26" x2="1176.94" y2="456.48" stroke="#000" stroke-width="2.6" stroke-linecap="square"/>
<line x1="1217.67" y1="421.26" x2="1217.67" y2="456.48" stroke="#000" stroke-width="2.6" stroke-linecap="square"/>
<line x1="851.10" y1="456.48" x2="851.10" y2="491.70" stroke="#000" stroke-width="2.6" stroke-linecap="square"/>
<line x1="1217.67" y1="456.48" x2="1217.67" y2="491.70" stroke="#000" stroke-width="2.6" stroke-linecap="square"/>
<line x1="851.10" y1="139.50" x2="891.83" y2="139.50" stroke="#000" stroke-width="2.6" stroke-linecap="square"/>
<line x1="891.83" y1="139.50" x2="932.56" y2="139.50" stroke="#000" stroke-width="2.6" stroke-linecap="square"/>
<line x1="932.56" y1="139.50" x2="973.29" y2="139.50" stroke="#000" stroke-width="2.6" stroke-linecap="square"/>
<line x1="973.29" y1="139.50" x2="1014.02" y2="139.50" stroke="#000" stroke-width="2.6" stroke-linecap="square"/>
<line x1="1014.02" y1="139.50" x2="1054.75" y2="139.50" stroke="#000" stroke-width="2.6" stroke-linecap="square"/>
<line x1="1054.75" y1="139.50" x2="1095.48" y2="139.50" stroke="#000" stroke-width="2.6" stroke-linecap="square"/>
<line x1="1095.48" y1="139.50" x2="1136.21" y2="139.50" stroke="#000" stroke-width="2.6" stroke-linecap="square"/>
<line x1="1136.21" y1="139.50" x2="1176.94" y2="139.50" stroke="#000" stroke-width="2.6" stroke-linecap="square"/>
<line x1="1176.94" y1="139.50" x2="1217.67" y2="139.50" stroke="#000" stroke-width="2.6" stroke-linecap="square"/>
<line x1="891.83" y1="174.72" x2="932.56" y2="174.72" stroke="#000" stroke-width="2.6" stroke-linecap="square"/>
<line x1="932.56" y1="174.72" x2="973.29" y2="174.72" stroke="#000" stroke-width="2.6" stroke-linecap="square"/>
<line x1="973.29" y1="174.72" x2="1014.02" y2="174.72" stroke="#000" stroke-width="2.6" stroke-linecap="square"/>
<line x1="1014.02" y1="174.72" x2="1054.75" y2="174.72" stroke="#000" stroke-width="2.6" stroke-linecap="square"/>
<line x1="1054.75" y1="174.72" x2="1095.48" y2="174.72" stroke="#000" stroke-width="2.6" stroke-linecap="square"/>
<line x1="1095.48" y1="174.72" x2="1136.21" y2="174.72" stroke="#000" stroke-width="2.6" stroke-linecap="square"/>
<line x1="1136.21" y1="174.72" x2="1176.94" y2="174.72" stroke="#000" stroke-width="2.6" stroke-linecap="square"/>
<line x1="851.10" y1="209.94" x2="891.83" y2="209.94" stroke="#000" stroke-width="2.6" stroke-linecap="square"/>
<line x1="1176.94" y1="209.94" x2="1217.67" y2="209.94" stroke="#000" stroke-width="2.6" stroke-linecap="square"/>
<line x1="932.56" y1="245.16" x2="973.29" y2="245.16" stroke="#000" stroke-width="2.6" stroke-linecap="square"/>
<line x1="1095.48" y1="245.16" x2="1136.21" y2="245.16" stroke="#000" stroke-width="2.6" stroke-linecap="square"/>
<line x1="932.56" y1="280.38" x2="973.29" y2="280.38" stroke="#000" stroke-width="2.6" stroke-linecap="square"/>
<line x1="1095.48" y1="280.38" x2="1136.21" y2="280.38" stroke="#000" stroke-width="2.6" stroke-linecap="square"/>
<line x1="851.10" y1="421.26" x2="891.83" y2="421.26" stroke="#000" stroke-width="2.6" stroke-linecap="square"/>
<line x1="1176.94" y1="421.26" x2="1217.67" y2="421.26" stroke="#000" stroke-width="2.6" stroke-linecap="square"/>
<line x1="891.83" y1="456.48" x2="932.56" y2="456.48" stroke="#000" stroke-width="2.6" stroke-linecap="square"/>
<line x1="932.56" y1="456.48" x2="973.29" y2="456.48" stroke="#000" stroke-width="2.6" stroke-linecap="square"/>
<line x1="973.29" y1="456.48" x2="1014.02" y2="456.48" stroke="#000" stroke-width="2.6" stroke-linecap="square"/>
<line x1="1014.02" y1="456.48" x2="1054.75" y2="456.48" stroke="#000" stroke-width="2.6" stroke-linecap="square"/>
<line x1="1054.75" y1="456.48" x2="1095.48" y2="456.48" stroke="#000" stroke-width="2.6" stroke-linecap="square"/>
<line x1="1095.48" y1="456.48" x2="1136.21" y2="456.48" stroke="#000" stroke-width="2.6" stroke-linecap="square"/>
<line x1="1136.21" y1="456.48" x2="1176.94" y2="456.48" stroke="#000" stroke-width="2.6" stroke-linecap="square"/>
<line x1="851.10" y1="491.70" x2="891.83" y2="491.70" stroke="#000" stroke-width="2.6" stroke-linecap="square"/>
<line x1="891.83" y1="491.70" x2="932.56" y2="491.70" stroke="#000" stroke-width="2.6" stroke-linecap="square"/>
<line x1="932.56" y1="491.70" x2="973.29" y2="491.70" stroke="#000" stroke-width="2.6" stroke-linecap="square"/>
<line x1="973.29" y1="491.70" x2="1014.02" y2="491.70" stroke="#000" stroke-width="2.6" stroke-linecap="square"/>
<line x1="1014.02" y1="491.70" x2="1054.75" y2="491.70" stroke="#000" stroke-width="2.6" stroke-linecap="square"/>
<line x1="1054.75" y1="491.70" x2="1095.48" y2="491.70" stroke="#000" stroke-width="2.6" stroke-linecap="square"/>
<line x1="1095.48" y1="491.70" x2="1136.21" y2="491.70" stroke="#000" stroke-width="2.6" stroke-linecap="square"/>
<line x1="1136.21" y1="491.70" x2="1176.94" y2="491.70" stroke="#000" stroke-width="2.6" stroke-linecap="square"/>
<line x1="1176.94" y1="491.70" x2="1217.67" y2="491.70" stroke="#000" stroke-width="2.6" stroke-linecap="square"/>
<text x="912.20" y="195.63" font-size="9.3" text-anchor="middle" fill="#111" stroke="#111" stroke-width="0.4">12 + 8</text>
<text x="952.93" y="195.63" font-size="9.3" text-anchor="middle" fill="#111" stroke="#111" stroke-width="0.4">15 + 5</text>
<text x="993.65" y="195.63" font-size="9.3" text-anchor="middle" fill="#111" stroke="#111" stroke-width="0.4">17 + 3</text>
<text x="1034.38" y="195.63" font-size="9.3" text-anchor="middle" fill="#111" stroke="#111" stroke-width="0.4">14 + 6</text>
<text x="1075.12" y="195.63" font-size="9.3" text-anchor="middle" fill="#111" stroke="#111" stroke-width="0.4">9 + 11</text>
<text x="1115.85" y="195.63" font-size="9.3" text-anchor="middle" fill="#111" stroke="#111" stroke-width="0.4">15 + 5</text>
<text x="1156.58" y="195.63" font-size="9.3" text-anchor="middle" fill="#111" stroke="#111" stroke-width="0.4">4 + 16</text>
<text x="871.47" y="230.85" font-size="9.3" text-anchor="middle" fill="#111" stroke="#111" stroke-width="0.4">6 + 6</text>
<text x="912.20" y="230.85" font-size="9.3" text-anchor="middle" fill="#111" stroke="#111" stroke-width="0.4">0 + 10</text>
<text x="952.93" y="230.85" font-size="9.3" text-anchor="middle" fill="#111" stroke="#111" stroke-width="0.4">5 + 5</text>
<text x="993.65" y="230.85" font-size="9.3" text-anchor="middle" fill="#111" stroke="#111" stroke-width="0.4">3 + 7</text>
<text x="1034.38" y="230.85" font-size="9.3" text-anchor="middle" fill="#111" stroke="#111" stroke-width="0.4">8 + 12</text>
<text x="1075.12" y="230.85" font-size="9.3" text-anchor="middle" fill="#111" stroke="#111" stroke-width="0.4">8 + 2</text>
<text x="1115.85" y="230.85" font-size="9.3" text-anchor="middle" fill="#111" stroke="#111" stroke-width="0.4">10 + 0</text>
<text x="1156.58" y="230.85" font-size="9.3" text-anchor="middle" fill="#111" stroke="#111" stroke-width="0.4">9 + 1</text>
<text x="1197.31" y="230.85" font-size="9.3" text-anchor="middle" fill="#111" stroke="#111" stroke-width="0.4">8 + 4</text>
<text x="871.47" y="266.07" font-size="9.3" text-anchor="middle" fill="#111" stroke="#111" stroke-width="0.4">3 + 9</text>
<text x="912.20" y="266.07" font-size="9.3" text-anchor="middle" fill="#111" stroke="#111" stroke-width="0.4">2 + 8</text>
<text x="993.65" y="266.07" font-size="9.3" text-anchor="middle" fill="#111" stroke="#111" stroke-width="0.4">6 + 4</text>
<text x="1034.38" y="266.07" font-size="9.3" text-anchor="middle" fill="#111" stroke="#111" stroke-width="0.4">20 + 0</text>
<text x="1075.12" y="266.07" font-size="9.3" text-anchor="middle" fill="#111" stroke="#111" stroke-width="0.4">7 + 3</text>
<text x="1156.58" y="266.07" font-size="9.3" text-anchor="middle" fill="#111" stroke="#111" stroke-width="0.4">6 + 4</text>
<text x="1197.31" y="266.07" font-size="9.3" text-anchor="middle" fill="#111" stroke="#111" stroke-width="0.4">10 + 2</text>
<text x="871.47" y="301.29" font-size="9.3" text-anchor="middle" fill="#111" stroke="#111" stroke-width="0.4">14 + 6</text>
<text x="912.20" y="301.29" font-size="9.3" text-anchor="middle" fill="#111" stroke="#111" stroke-width="0.4">4 + 6</text>
<text x="952.93" y="301.29" font-size="9.3" text-anchor="middle" fill="#111" stroke="#111" stroke-width="0.4">3 + 7</text>
<text x="993.65" y="301.29" font-size="9.3" text-anchor="middle" fill="#111" stroke="#111" stroke-width="0.4">1 + 9</text>
<text x="1034.38" y="301.29" font-size="9.3" text-anchor="middle" fill="#111" stroke="#111" stroke-width="0.4">7 + 13</text>
<text x="1075.12" y="301.29" font-size="9.3" text-anchor="middle" fill="#111" stroke="#111" stroke-width="0.4">2 + 8</text>
<text x="1115.85" y="301.29" font-size="9.3" text-anchor="middle" fill="#111" stroke="#111" stroke-width="0.4">1 + 9</text>
<text x="1156.58" y="301.29" font-size="9.3" text-anchor="middle" fill="#111" stroke="#111" stroke-width="0.4">3 + 7</text>
<text x="1197.31" y="301.29" font-size="9.3" text-anchor="middle" fill="#111" stroke="#111" stroke-width="0.4">0 + 20</text>
<text x="871.47" y="336.51" font-size="9.3" text-anchor="middle" fill="#111" stroke="#111" stroke-width="0.4">0 + 20</text>
<text x="912.20" y="336.51" font-size="9.3" text-anchor="middle" fill="#111" stroke="#111" stroke-width="0.4">3 + 17</text>
<text x="952.93" y="336.51" font-size="9.3" text-anchor="middle" fill="#111" stroke="#111" stroke-width="0.4">11 + 9</text>
<text x="993.65" y="336.51" font-size="9.3" text-anchor="middle" fill="#111" stroke="#111" stroke-width="0.4">2 + 18</text>
<text x="1034.38" y="336.51" font-size="9.3" text-anchor="middle" fill="#111" stroke="#111" stroke-width="0.4">5 + 15</text>
<text x="1075.12" y="336.51" font-size="9.3" text-anchor="middle" fill="#111" stroke="#111" stroke-width="0.4">6 + 14</text>
<text x="1115.85" y="336.51" font-size="9.3" text-anchor="middle" fill="#111" stroke="#111" stroke-width="0.4">9 + 11</text>
<text x="1156.58" y="336.51" font-size="9.3" text-anchor="middle" fill="#111" stroke="#111" stroke-width="0.4">12 + 8</text>
<text x="1197.31" y="336.51" font-size="9.3" text-anchor="middle" fill="#111" stroke="#111" stroke-width="0.4">5 + 15</text>
<text x="871.47" y="371.73" font-size="9.3" text-anchor="middle" fill="#111" stroke="#111" stroke-width="0.4">14 + 1</text>
<text x="912.20" y="371.73" font-size="9.3" text-anchor="middle" fill="#111" stroke="#111" stroke-width="0.4">7 + 8</text>
<text x="952.93" y="371.73" font-size="9.3" text-anchor="middle" fill="#111" stroke="#111" stroke-width="0.4">19 + 1</text>
<text x="993.65" y="371.73" font-size="9.3" text-anchor="middle" fill="#111" stroke="#111" stroke-width="0.4">4 + 2</text>
<text x="1034.38" y="371.73" font-size="9.3" text-anchor="middle" fill="#111" stroke="#111" stroke-width="0.4">3 + 3</text>
<text x="1075.12" y="371.73" font-size="9.3" text-anchor="middle" fill="#111" stroke="#111" stroke-width="0.4">6 + 0</text>
<text x="1115.85" y="371.73" font-size="9.3" text-anchor="middle" fill="#111" stroke="#111" stroke-width="0.4">18 + 2</text>
<text x="1156.58" y="371.73" font-size="9.3" text-anchor="middle" fill="#111" stroke="#111" stroke-width="0.4">9 + 6</text>
<text x="1197.31" y="371.73" font-size="9.3" text-anchor="middle" fill="#111" stroke="#111" stroke-width="0.4">0 + 15</text>
<text x="871.47" y="406.95" font-size="9.3" text-anchor="middle" fill="#111" stroke="#111" stroke-width="0.4">2 + 13</text>
<text x="912.20" y="406.95" font-size="9.3" text-anchor="middle" fill="#111" stroke="#111" stroke-width="0.4">12 + 3</text>
<text x="952.93" y="406.95" font-size="9.3" text-anchor="middle" fill="#111" stroke="#111" stroke-width="0.4">16 + 4</text>
<text x="993.65" y="406.95" font-size="9.3" text-anchor="middle" fill="#111" stroke="#111" stroke-width="0.4">0 + 6</text>
<text x="1034.38" y="406.95" font-size="9.3" text-anchor="middle" fill="#111" stroke="#111" stroke-width="0.4">3 + 3</text>
<text x="1075.12" y="406.95" font-size="9.3" text-anchor="middle" fill="#111" stroke="#111" stroke-width="0.4">5 + 1</text>
<text x="1115.85" y="406.95" font-size="9.3" text-anchor="middle" fill="#111" stroke="#111" stroke-width="0.4">20 + 0</text>
<text x="1156.58" y="406.95" font-size="9.3" text-anchor="middle" fill="#111" stroke="#111" stroke-width="0.4">10 + 5</text>
<text x="1197.31" y="406.95" font-size="9.3" text-anchor="middle" fill="#111" stroke="#111" stroke-width="0.4">4 + 11</text>
<text x="912.20" y="442.17" font-size="9.3" text-anchor="middle" fill="#111" stroke="#111" stroke-width="0.4">1 + 19</text>
<text x="952.93" y="442.17" font-size="9.3" text-anchor="middle" fill="#111" stroke="#111" stroke-width="0.4">15 + 5</text>
<text x="993.65" y="442.17" font-size="9.3" text-anchor="middle" fill="#111" stroke="#111" stroke-width="0.4">4 + 16</text>
<text x="1034.38" y="442.17" font-size="9.3" text-anchor="middle" fill="#111" stroke="#111" stroke-width="0.4">13 + 7</text>
<text x="1075.12" y="442.17" font-size="9.3" text-anchor="middle" fill="#111" stroke="#111" stroke-width="0.4">6 + 14</text>
<text x="1115.85" y="442.17" font-size="9.3" text-anchor="middle" fill="#111" stroke="#111" stroke-width="0.4">1 + 19</text>
<text x="1156.58" y="442.17" font-size="9.3" text-anchor="middle" fill="#111" stroke="#111" stroke-width="0.4">16 + 4</text>
<text x="852.00" y="506.70" font-size="10.5" fill="#2A2A2A" textLength="246.00" lengthAdjust="spacingAndGlyphs">Write 3 addition calculations where the total is 20.</text>
<text x="852.00" y="525.70" font-size="10.5" font-weight="bold" textLength="243.70" lengthAdjust="spacingAndGlyphs" stroke="#231F20" stroke-width="0.4">Any addition calculations that equal 20, such as:</text>
<text x="852.00" y="541.90" font-size="11.1" font-weight="bold" stroke="#231F20" stroke-width="0.4">19 + 1 = 20, 15 + 5 = 20, 10 + 10 = 20</text>
<line x1="852.00" y1="562.30" x2="1217.00" y2="562.30" stroke="#454545" stroke-width="2.4"/>
<g transform="translate(851.40,567.50) scale(1.0)"><ellipse cx="16.2" cy="8.4" rx="14.6" ry="5.8" fill="#000"/><circle cx="5.2" cy="7.8" r="4.9" fill="#000"/><circle cx="11.4" cy="13.2" r="4.6" fill="#000"/><circle cx="17.5" cy="12.5" r="3.8" fill="#000"/><circle cx="18.3" cy="3.3" r="4.1" fill="#000"/><circle cx="11.5" cy="4.3" r="3.4" fill="#000"/><circle cx="27.8" cy="5.4" r="4.2" fill="#000"/><circle cx="24.5" cy="10" r="3.6" fill="#000"/><text x="14.9" y="10.3" font-size="6.6" font-weight="bold" fill="#fff" text-anchor="middle" textLength="20" lengthAdjust="spacingAndGlyphs">twinkl</text></g></svg></div>
<svg class="eco" width="1260" height="630" viewBox="0 0 1260 630">
<rect x="966.4" y="530.7" width="310" height="64.3" rx="3" fill="#6EAA3D" stroke="#5F9B30" stroke-width="0.8"/>
<path d="M1184.6 481.8 L1157.5 531 C1150 544 1146 553 1146 564 C1146 586 1163.5 604.2 1184.6 604.2 C1205.7 604.2 1223.2 586 1223.2 564 C1223.2 553 1219 544 1211.7 531 Z" fill="#8CC44A" stroke="#79B53C" stroke-width="1"/>
<line x1="1186" y1="532.7" x2="1186" y2="604" stroke="#B5DB84" stroke-width="2"/>
<line x1="1186" y1="603" x2="1186" y2="615.2" stroke="#7DB845" stroke-width="2.2"/>
<text x="985.2" y="574.3" font-size="35" fill="#FFFFFF" stroke="#FFFFFF" stroke-width="0.8" textLength="143" lengthAdjust="spacingAndGlyphs">ink saving</text>
<text x="1158.8" y="571.4" font-size="30.5" font-weight="bold" fill="#FFFFFF" textLength="53" lengthAdjust="spacingAndGlyphs">Eco</text>
</svg>
</div></body></html>
